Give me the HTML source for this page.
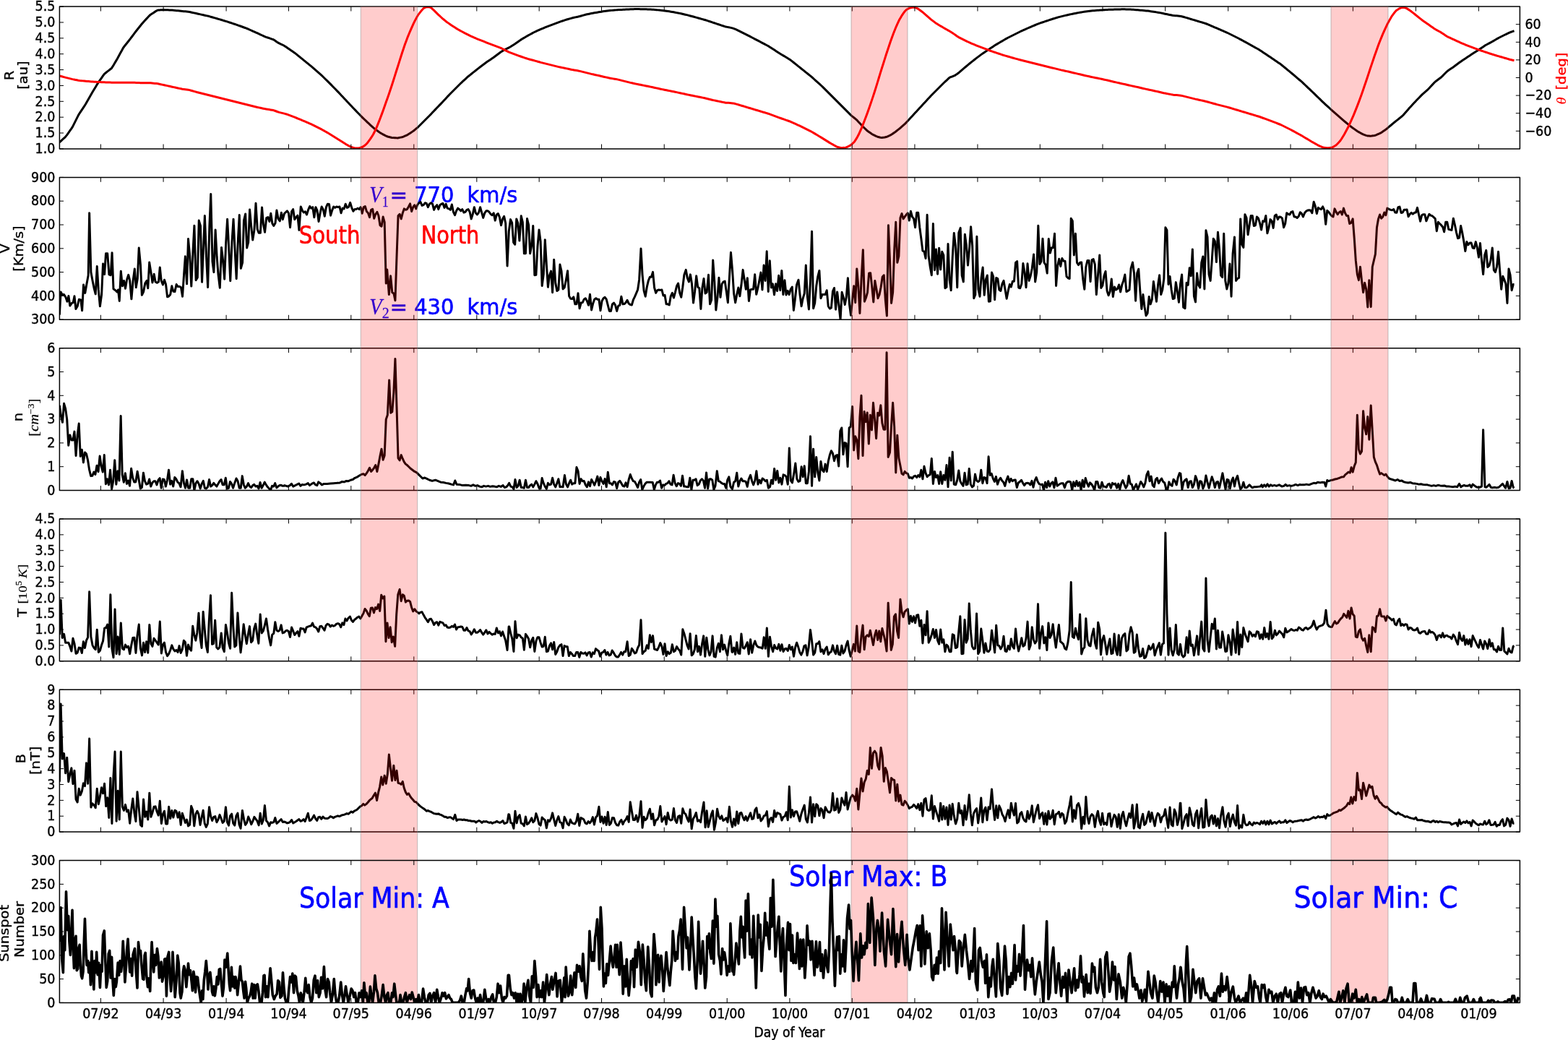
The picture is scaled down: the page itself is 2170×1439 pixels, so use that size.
<!DOCTYPE html>
<html lang="en"><head><meta charset="utf-8"><title>Ulysses solar wind overview</title>
<style>html,body{margin:0;padding:0;background:#fff;overflow:hidden}svg{display:block}</style></head>
<body>
<svg xmlns="http://www.w3.org/2000/svg" width="2170" height="1439" viewBox="0 0 2170 1439" font-family="'DejaVu Sans Condensed','DejaVu Sans','Liberation Sans',sans-serif" font-size="19.44" fill="#000" stroke-linejoin="round">
<defs>
<clipPath id="c0"><rect x="82.4" y="9.1" width="2021" height="196.8"/></clipPath>
<clipPath id="c1"><rect x="82.4" y="245.4" width="2021" height="196.8"/></clipPath>
<clipPath id="c2"><rect x="82.4" y="481.7" width="2021" height="196.8"/></clipPath>
<clipPath id="c3"><rect x="82.4" y="718" width="2021" height="196.8"/></clipPath>
<clipPath id="c4"><rect x="82.4" y="954.3" width="2021" height="196.8"/></clipPath>
<clipPath id="c5"><rect x="82.4" y="1190.6" width="2021" height="196.8"/></clipPath>
</defs>
<rect width="2170" height="1439" fill="#fff"/>
<g id="panel0">

<g clip-path="url(#c0)"><path d="M82.37 196.87 L84.37 195.03 L86.37 193.2 L88.37 191.37 L90.37 189.53 L92.37 187.12 L94.37 184.29 L96.37 181.46 L98.37 178.62 L100.37 175.61 L102.37 171.61 L104.37 167.61 L106.37 163.61 L108.37 159.61 L110.37 156.34 L112.37 153.34 L114.37 150.34 L116.37 147.34 L118.37 144.19 L120.37 140.69 L122.37 137.19 L124.37 133.69 L126.37 130.19 L128.37 126.84 L130.37 123.5 L132.37 120.17 L134.37 116.84 L136.37 113.73 L138.37 110.9 L140.37 108.06 L142.37 105.23 L144.37 102.43 L146.37 100.77 L148.37 99.1 L150.37 97.57 L152.37 96.07 L154.37 94.57 L156.37 91.42 L158.37 88.02 L160.37 84.62 L162.37 81.17 L164.37 77.5 L166.37 73.83 L168.37 70.17 L170.37 66.5 L172.37 63.72 L174.37 61.22 L176.37 58.72 L178.37 56.22 L180.37 53.67 L182.37 51 L184.37 48.33 L186.37 45.67 L188.37 43 L190.37 40.48 L192.37 37.98 L194.37 35.48 L196.37 32.98 L198.37 30.66 L200.37 28.52 L202.37 26.37 L204.37 24.23 L206.37 22.09 L208.37 20.22 L210.37 18.94 L212.37 17.65 L214.37 16.37 L216.37 15.08 L218.37 13.99 L220.37 13.89 L222.37 13.79 L224.37 13.69 L226.37 13.59 L228.37 13.63 L230.37 13.72 L232.37 13.8 L234.37 13.89 L236.37 13.97 L238.37 14.11 L240.37 14.29 L242.37 14.46 L244.37 14.64 L246.37 14.81 L248.37 14.99 L250.37 15.19 L252.37 15.42 L254.37 15.64 L256.37 15.86 L258.37 16.08 L260.37 16.3 L262.37 16.54 L264.37 16.98 L266.37 17.43 L268.37 17.87 L270.37 18.31 L272.37 18.76 L274.37 19.2 L276.37 19.65 L278.37 20.09 L280.37 20.54 L282.37 20.98 L284.37 21.43 L286.37 21.87 L288.37 22.31 L290.37 22.86 L292.37 23.44 L294.37 24.02 L296.37 24.6 L298.37 25.17 L300.37 25.75 L302.37 26.33 L304.37 26.93 L306.37 27.53 L308.37 28.13 L310.37 28.73 L312.37 29.33 L314.37 29.93 L316.37 30.57 L318.37 31.23 L320.37 31.9 L322.37 32.57 L324.37 33.23 L326.37 33.9 L328.37 34.57 L330.37 35.29 L332.37 36.02 L334.37 36.76 L336.37 37.49 L338.37 38.22 L340.37 38.96 L342.37 39.73 L344.37 40.61 L346.37 41.5 L348.37 42.39 L350.37 43.28 L352.37 44.17 L354.37 45.06 L356.37 45.97 L358.37 46.89 L360.37 47.82 L362.37 48.74 L364.37 49.67 L366.37 50.59 L368.37 51.35 L370.37 52.02 L372.37 52.7 L374.37 53.37 L376.37 54.05 L378.37 54.72 L380.37 56 L382.37 57.43 L384.37 58.87 L386.37 59.94 L388.37 60.88 L390.37 61.76 L392.37 62.78 L394.37 63.96 L396.37 65.32 L398.37 66.71 L400.37 68.08 L402.37 69.46 L404.37 70.83 L406.37 72.21 L408.37 73.58 L410.37 75.18 L412.37 76.8 L414.37 78.43 L416.37 80.05 L418.37 81.68 L420.37 83.3 L422.37 84.93 L424.37 86.55 L426.37 88.18 L428.37 89.8 L430.37 91.43 L432.37 93.06 L434.37 94.81 L436.37 96.56 L438.37 98.31 L440.37 100.06 L442.37 101.81 L444.37 103.6 L446.37 105.55 L448.37 107.5 L450.37 109.45 L452.37 111.4 L454.37 113.35 L456.37 115.33 L458.37 117.38 L460.37 119.43 L462.37 121.48 L464.37 123.53 L466.37 125.58 L468.37 127.66 L470.37 129.79 L472.37 131.91 L474.37 134.04 L476.37 136.16 L478.37 138.29 L480.37 140.41 L482.37 142.54 L484.37 144.66 L486.37 146.79 L488.37 148.91 L490.37 151.04 L492.37 153.13 L494.37 155.19 L496.37 157.26 L498.37 159.33 L500.37 161.37 L502.37 163.3 L504.37 165.24 L506.37 167.17 L508.37 169.1 L510.37 170.96 L512.37 172.8 L514.37 174.63 L516.37 176.46 L518.37 178.16 L520.37 179.6 L522.37 181.03 L524.37 182.46 L526.37 183.9 L528.37 185 L530.37 186.07 L532.37 187.13 L534.37 188.2 L536.37 188.99 L538.37 189.47 L540.37 189.95 L542.37 190.43 L544.37 190.62 L546.37 190.74 L548.37 190.86 L550.37 190.93 L552.37 190.53 L554.37 190.13 L556.37 189.73 L558.37 189.11 L560.37 188.19 L562.37 187.27 L564.37 186.35 L566.37 185.1 L568.37 183.74 L570.37 182.38 L572.37 181.01 L574.37 179.36 L576.37 177.71 L578.37 176.03 L580.37 174.03 L582.37 172.03 L584.37 170.03 L586.37 168.03 L588.37 166.03 L590.37 164.03 L592.37 162.03 L594.37 160.03 L596.37 157.93 L598.37 155.83 L600.37 153.73 L602.37 151.63 L604.37 149.55 L606.37 147.48 L608.37 145.41 L610.37 143.35 L612.37 141.27 L614.37 139.1 L616.37 136.93 L618.37 134.77 L620.37 132.6 L622.37 130.55 L624.37 128.55 L626.37 126.55 L628.37 124.55 L630.37 122.55 L632.37 120.55 L634.37 118.55 L636.37 116.55 L638.37 114.55 L640.37 112.7 L642.37 110.86 L644.37 109.03 L646.37 107.2 L648.37 105.47 L650.37 103.87 L652.37 102.27 L654.37 100.67 L656.37 99.07 L658.37 97.5 L660.37 95.93 L662.37 94.37 L664.37 92.8 L666.37 91.27 L668.37 89.77 L670.37 88.27 L672.37 86.77 L674.37 85.3 L676.37 83.97 L678.37 82.64 L680.37 81.3 L682.37 79.97 L684.37 78.51 L686.37 77.01 L688.37 75.51 L690.37 74.01 L692.37 72.54 L694.37 71.14 L696.37 70.02 L698.37 68.93 L700.37 67.84 L702.37 66.78 L704.37 65.81 L706.37 64.76 L708.37 63.49 L710.37 62.23 L712.37 60.96 L714.37 59.58 L716.37 58.18 L718.37 56.78 L720.37 55.38 L722.37 54.08 L724.37 52.91 L726.37 51.75 L728.37 50.58 L730.37 49.41 L732.37 48.31 L734.37 47.21 L736.37 46.11 L738.37 45.01 L740.37 44.02 L742.37 43.12 L744.37 42.22 L746.37 41.32 L748.37 40.43 L750.37 39.6 L752.37 38.77 L754.37 37.93 L756.37 37.1 L758.37 36.34 L760.37 35.61 L762.37 34.87 L764.37 34.14 L766.37 33.4 L768.37 32.63 L770.37 31.86 L772.37 31.1 L774.37 30.33 L776.37 29.65 L778.37 28.98 L780.37 28.32 L782.37 27.65 L784.37 27.03 L786.37 26.46 L788.37 25.89 L790.37 25.33 L792.37 24.76 L794.37 24.33 L796.37 23.9 L798.37 23.46 L800.37 23.03 L802.37 22.52 L804.37 21.95 L806.37 21.38 L808.37 20.82 L810.37 20.27 L812.37 19.84 L814.37 19.41 L816.37 18.97 L818.37 18.54 L820.37 18.18 L822.37 17.85 L824.37 17.52 L826.37 17.18 L828.37 16.85 L830.37 16.52 L832.37 16.18 L834.37 15.85 L836.37 15.52 L838.37 15.27 L840.37 15.04 L842.37 14.81 L844.37 14.57 L846.37 14.37 L848.37 14.21 L850.37 14.04 L852.37 13.87 L854.37 13.71 L856.37 13.61 L858.37 13.51 L860.37 13.41 L862.37 13.31 L864.37 13.21 L866.37 13.11 L868.37 13.01 L870.37 12.91 L872.37 12.82 L874.37 12.75 L876.37 12.68 L878.37 12.62 L880.37 12.55 L882.37 12.56 L884.37 12.59 L886.37 12.63 L888.37 12.66 L890.37 12.71 L892.37 12.77 L894.37 12.84 L896.37 12.91 L898.37 12.97 L900.37 13.1 L902.37 13.24 L904.37 13.37 L906.37 13.5 L908.37 13.67 L910.37 13.87 L912.37 14.07 L914.37 14.27 L916.37 14.47 L918.37 14.74 L920.37 15.01 L922.37 15.27 L924.37 15.54 L926.37 15.85 L928.37 16.19 L930.37 16.52 L932.37 16.85 L934.37 17.2 L936.37 17.6 L938.37 18 L940.37 18.4 L942.37 18.8 L944.37 19.26 L946.37 19.72 L948.37 20.19 L950.37 20.66 L952.37 21.15 L954.37 21.68 L956.37 22.22 L958.37 22.75 L960.37 23.28 L962.37 23.85 L964.37 24.41 L966.37 24.98 L968.37 25.55 L970.37 26.11 L972.37 26.68 L974.37 27.25 L976.37 27.81 L978.37 28.39 L980.37 29.06 L982.37 29.73 L984.37 30.39 L986.37 31.06 L988.37 31.73 L990.37 32.39 L992.37 33.06 L994.37 33.73 L996.37 34.39 L998.37 35.06 L1000.37 35.73 L1002.37 36.39 L1004.37 37.06 L1006.37 37.37 L1008.37 37.72 L1010.37 38.14 L1012.37 38.62 L1014.37 39.17 L1016.37 39.87 L1018.37 40.71 L1020.37 41.6 L1022.37 42.6 L1024.37 43.6 L1026.37 44.6 L1028.37 45.6 L1030.37 46.6 L1032.37 47.6 L1034.37 48.6 L1036.37 49.64 L1038.37 50.68 L1040.37 51.72 L1042.37 52.76 L1044.37 53.8 L1046.37 54.84 L1048.37 55.88 L1050.37 56.93 L1052.37 57.99 L1054.37 59.05 L1056.37 60.11 L1058.37 61.17 L1060.37 62.23 L1062.37 63.29 L1064.37 64.4 L1066.37 65.7 L1068.37 67 L1070.37 68.3 L1072.37 69.6 L1074.37 70.9 L1076.37 72.2 L1078.37 73.5 L1080.37 74.72 L1082.37 75.92 L1084.37 77.12 L1086.37 78.32 L1088.37 79.52 L1090.37 80.72 L1092.37 81.92 L1094.37 83.3 L1096.37 84.9 L1098.37 86.5 L1100.37 88.1 L1102.37 89.7 L1104.37 91.3 L1106.37 92.9 L1108.37 94.5 L1110.37 96.1 L1112.37 97.7 L1114.37 99.3 L1116.37 100.9 L1118.37 102.5 L1120.37 104.1 L1122.37 105.7 L1124.37 107.44 L1126.37 109.24 L1128.37 111.04 L1130.37 112.84 L1132.37 114.64 L1134.37 116.44 L1136.37 118.24 L1138.37 120.1 L1140.37 122.1 L1142.37 124.1 L1144.37 126.1 L1146.37 128.1 L1148.37 130.1 L1150.37 132.1 L1152.37 134.1 L1154.37 136.1 L1156.37 138.1 L1158.37 140.1 L1160.37 142.1 L1162.37 144.1 L1164.37 146.1 L1166.37 148.1 L1168.37 150.1 L1170.37 152.1 L1172.37 154.1 L1174.37 156.1 L1176.37 158.1 L1178.37 160.08 L1180.37 161.68 L1182.37 163.28 L1184.37 164.88 L1186.37 166.7 L1188.37 168.9 L1190.37 171.1 L1192.37 173.3 L1194.37 175.31 L1196.37 177.23 L1198.37 179.15 L1200.37 181.07 L1202.37 182.44 L1204.37 183.8 L1206.37 185.16 L1208.37 186.41 L1210.37 187.41 L1212.37 188.41 L1214.37 189.23 L1216.37 189.73 L1218.37 190.23 L1220.37 190.44 L1222.37 190.24 L1224.37 190.04 L1226.37 189.57 L1228.37 188.77 L1230.37 187.97 L1232.37 186.93 L1234.37 185.65 L1236.37 184.37 L1238.37 183.09 L1240.37 181.54 L1242.37 179.94 L1244.37 178.34 L1246.37 176.72 L1248.37 174.92 L1250.37 173.12 L1252.37 171.32 L1254.37 169.35 L1256.37 167.19 L1258.37 165.02 L1260.37 162.85 L1262.37 160.69 L1264.37 158.52 L1266.37 156.35 L1268.37 154.19 L1270.37 152.02 L1272.37 149.85 L1274.37 147.69 L1276.37 145.52 L1278.37 143.35 L1280.37 141.19 L1282.37 139.02 L1284.37 136.85 L1286.37 134.69 L1288.37 132.52 L1290.37 130.48 L1292.37 128.48 L1294.37 126.48 L1296.37 124.48 L1298.37 122.48 L1300.37 120.48 L1302.37 118.48 L1304.37 116.48 L1306.37 114.48 L1308.37 112.63 L1310.37 110.8 L1312.37 108.96 L1314.37 107.13 L1316.37 106.35 L1318.37 105.72 L1320.37 104.88 L1322.37 103.81 L1324.37 102.55 L1326.37 101.04 L1328.37 99.3 L1330.37 97.57 L1332.37 95.84 L1334.37 94.16 L1336.37 92.49 L1338.37 90.83 L1340.37 89.16 L1342.37 87.52 L1344.37 85.92 L1346.37 84.32 L1348.37 82.72 L1350.37 81.12 L1352.37 79.62 L1354.37 78.12 L1356.37 76.62 L1358.37 75.12 L1360.37 73.71 L1362.37 72.38 L1364.37 71.05 L1366.37 69.71 L1368.37 68.38 L1370.37 67.05 L1372.37 65.71 L1374.37 64.38 L1376.37 63.05 L1378.37 61.83 L1380.37 60.67 L1382.37 59.5 L1384.37 58.33 L1386.37 57.17 L1388.37 56 L1390.37 54.83 L1392.37 53.67 L1394.37 52.5 L1396.37 51.48 L1398.37 50.48 L1400.37 49.48 L1402.37 48.48 L1404.37 47.48 L1406.37 46.48 L1408.37 45.48 L1410.37 44.48 L1412.37 43.48 L1414.37 42.58 L1416.37 41.68 L1418.37 40.78 L1420.37 39.88 L1422.37 39 L1424.37 38.13 L1426.37 37.27 L1428.37 36.4 L1430.37 35.55 L1432.37 34.75 L1434.37 33.95 L1436.37 33.15 L1438.37 32.35 L1440.37 31.65 L1442.37 30.98 L1444.37 30.31 L1446.37 29.65 L1448.37 28.98 L1450.37 28.31 L1452.37 27.65 L1454.37 26.98 L1456.37 26.31 L1458.37 25.71 L1460.37 25.11 L1462.37 24.51 L1464.37 23.91 L1466.37 23.35 L1468.37 22.85 L1470.37 22.35 L1472.37 21.85 L1474.37 21.36 L1476.37 20.93 L1478.37 20.49 L1480.37 20.06 L1482.37 19.63 L1484.37 19.21 L1486.37 18.81 L1488.37 18.41 L1490.37 18.01 L1492.37 17.63 L1494.37 17.29 L1496.37 16.96 L1498.37 16.63 L1500.37 16.29 L1502.37 16.01 L1504.37 15.75 L1506.37 15.48 L1508.37 15.21 L1510.37 14.98 L1512.37 14.81 L1514.37 14.65 L1516.37 14.48 L1518.37 14.31 L1520.37 14.18 L1522.37 14.05 L1524.37 13.91 L1526.37 13.78 L1528.37 13.66 L1530.37 13.56 L1532.37 13.46 L1534.37 13.36 L1536.37 13.27 L1538.37 13.2 L1540.37 13.13 L1542.37 13.07 L1544.37 13 L1546.37 12.95 L1548.37 12.92 L1550.37 12.89 L1552.37 12.85 L1554.37 12.84 L1556.37 12.87 L1558.37 12.9 L1560.37 12.94 L1562.37 12.97 L1564.37 13.09 L1566.37 13.22 L1568.37 13.35 L1570.37 13.49 L1572.37 13.63 L1574.37 13.8 L1576.37 13.97 L1578.37 14.13 L1580.37 14.3 L1582.37 14.5 L1584.37 14.7 L1586.37 14.9 L1588.37 15.1 L1590.37 15.35 L1592.37 15.65 L1594.37 15.95 L1596.37 16.25 L1598.37 16.56 L1600.37 16.89 L1602.37 17.22 L1604.37 17.56 L1606.37 17.89 L1608.37 18.29 L1610.37 18.73 L1612.37 19.16 L1614.37 19.59 L1616.37 20.02 L1618.37 20.42 L1620.37 20.82 L1622.37 21.22 L1624.37 21.62 L1626.37 21.7 L1628.37 21.82 L1630.37 22 L1632.37 22.24 L1634.37 22.55 L1636.37 22.98 L1638.37 23.52 L1640.37 24.08 L1642.37 24.68 L1644.37 25.28 L1646.37 25.88 L1648.37 26.48 L1650.37 27.08 L1652.37 27.68 L1654.37 28.28 L1656.37 28.88 L1658.37 29.48 L1660.37 30.08 L1662.37 30.68 L1664.37 31.28 L1666.37 31.88 L1668.37 32.48 L1670.37 33.22 L1672.37 34.08 L1674.37 34.94 L1676.37 35.8 L1678.37 36.66 L1680.37 37.52 L1682.37 38.38 L1684.37 39.24 L1686.37 40.1 L1688.37 40.96 L1690.37 41.82 L1692.37 42.68 L1694.37 43.54 L1696.37 44.4 L1698.37 45.26 L1700.37 46.24 L1702.37 47.24 L1704.37 48.24 L1706.37 49.24 L1708.37 50.24 L1710.37 51.24 L1712.37 52.24 L1714.37 53.28 L1716.37 54.36 L1718.37 55.44 L1720.37 56.52 L1722.37 57.6 L1724.37 58.68 L1726.37 59.76 L1728.37 60.84 L1730.37 61.96 L1732.37 63.08 L1734.37 64.2 L1736.37 65.32 L1738.37 66.44 L1740.37 67.56 L1742.37 68.68 L1744.37 69.95 L1746.37 71.29 L1748.37 72.63 L1750.37 73.97 L1752.37 75.31 L1754.37 76.65 L1756.37 77.99 L1758.37 79.34 L1760.37 80.7 L1762.37 82.06 L1764.37 83.42 L1766.37 84.78 L1768.37 86.14 L1770.37 87.5 L1772.37 88.86 L1774.37 90.49 L1776.37 92.13 L1778.37 93.77 L1780.37 95.41 L1782.37 97.05 L1784.37 98.69 L1786.37 100.33 L1788.37 102 L1790.37 103.7 L1792.37 105.4 L1794.37 107.1 L1796.37 108.8 L1798.37 110.5 L1800.37 112.2 L1802.37 113.94 L1804.37 115.84 L1806.37 117.74 L1808.37 119.64 L1810.37 121.54 L1812.37 123.44 L1814.37 125.34 L1816.37 127.24 L1818.37 129.18 L1820.37 131.12 L1822.37 133.06 L1824.37 135 L1826.37 136.94 L1828.37 138.88 L1830.37 140.82 L1832.37 142.7 L1834.37 144.53 L1836.37 146.35 L1838.37 148.18 L1840.37 150 L1842.37 151.83 L1844.37 153.62 L1846.37 155.39 L1848.37 157.15 L1850.37 158.89 L1852.37 160.6 L1854.37 162.34 L1856.37 164.09 L1858.37 165.83 L1860.37 167.57 L1862.37 169.24 L1864.37 170.87 L1866.37 172.52 L1868.37 174.16 L1870.37 175.72 L1872.37 177.17 L1874.37 178.62 L1876.37 180.08 L1878.37 181.47 L1880.37 182.63 L1882.37 183.77 L1884.37 184.92 L1886.37 185.94 L1888.37 186.65 L1890.37 187.38 L1892.37 187.89 L1894.37 188.03 L1896.37 188.17 L1898.37 188.1 L1900.37 187.79 L1902.37 187.48 L1904.37 186.87 L1906.37 185.98 L1908.37 185.09 L1910.37 184.21 L1912.37 182.9 L1914.37 181.53 L1916.37 180.16 L1918.37 178.78 L1920.37 177.24 L1922.37 175.49 L1924.37 173.75 L1926.37 172.01 L1928.37 170.36 L1930.37 168.75 L1932.37 167.15 L1934.37 165.56 L1936.37 163.97 L1938.37 162.37 L1940.37 160.76 L1942.37 158.84 L1944.37 156.54 L1946.37 154.23 L1948.37 151.9 L1950.37 149.57 L1952.37 147.41 L1954.37 145.24 L1956.37 143.07 L1958.37 140.91 L1960.37 138.8 L1962.37 136.74 L1964.37 134.67 L1966.37 132.6 L1968.37 130.6 L1970.37 128.83 L1972.37 127.06 L1974.37 125.3 L1976.37 123.53 L1978.37 121.45 L1980.37 119.28 L1982.37 117.12 L1984.37 114.95 L1986.37 113.02 L1988.37 111.52 L1990.37 110.02 L1992.37 108.52 L1994.37 107.02 L1996.37 105.06 L1998.37 103.06 L2000.37 101.06 L2002.37 99.06 L2004.37 97.39 L2006.37 96.06 L2008.37 94.73 L2010.37 93.39 L2012.37 92.04 L2014.37 90.54 L2016.37 89.04 L2018.37 87.54 L2020.37 86.04 L2022.37 84.65 L2024.37 83.32 L2026.37 81.99 L2028.37 80.65 L2030.37 79.32 L2032.37 77.99 L2034.37 76.65 L2036.37 75.32 L2038.37 73.99 L2040.37 72.71 L2042.37 71.44 L2044.37 70.17 L2046.37 68.91 L2048.37 67.62 L2050.37 66.28 L2052.37 64.95 L2054.37 63.62 L2056.37 62.28 L2058.37 61.21 L2060.37 60.14 L2062.37 59.07 L2064.37 58.01 L2066.37 56.89 L2068.37 55.72 L2070.37 54.55 L2072.37 53.39 L2074.37 52.24 L2076.37 51.24 L2078.37 50.24 L2080.37 49.24 L2082.37 48.24 L2084.37 47.29 L2086.37 46.37 L2088.37 45.45 L2090.37 44.53 L2092.37 43.85 L2094.37 43.16 L2095.53 42.76" fill="none" stroke="#000" stroke-width="3.0" stroke-linejoin="round" stroke-linecap="butt"/></g>
<g clip-path="url(#c0)"><path d="M82.37 105 L84.37 105.53 L86.37 106.06 L88.37 106.6 L90.37 107.13 L92.37 107.64 L94.37 108.14 L96.37 108.64 L98.37 109.14 L100.37 109.63 L102.37 110.03 L104.37 110.43 L106.37 110.83 L108.37 111.23 L110.37 111.48 L112.37 111.68 L114.37 111.88 L116.37 112.08 L118.37 112.28 L120.37 112.45 L122.37 112.6 L124.37 112.75 L126.37 112.9 L128.37 113.05 L130.37 113.2 L132.37 113.31 L134.37 113.4 L136.37 113.49 L138.37 113.58 L140.37 113.67 L142.37 113.76 L144.37 113.85 L146.37 113.91 L148.37 113.98 L150.37 114.05 L152.37 114.11 L154.37 114.18 L156.37 114.25 L158.37 114.29 L160.37 114.29 L162.37 114.29 L164.37 114.29 L166.37 114.29 L168.37 114.29 L170.37 114.29 L172.37 114.29 L174.37 114.29 L176.37 114.29 L178.37 114.29 L180.37 114.29 L182.37 114.29 L184.37 114.29 L186.37 114.36 L188.37 114.43 L190.37 114.49 L192.37 114.56 L194.37 114.63 L196.37 114.69 L198.37 114.73 L200.37 114.73 L202.37 114.73 L204.37 114.73 L206.37 114.73 L208.37 114.79 L210.37 114.99 L212.37 115.19 L214.37 115.39 L216.37 115.59 L218.37 115.83 L220.37 116.26 L222.37 116.68 L224.37 117.11 L226.37 117.53 L228.37 117.96 L230.37 118.39 L232.37 118.84 L234.37 119.29 L236.37 119.74 L238.37 120.19 L240.37 120.64 L242.37 121.08 L244.37 121.51 L246.37 121.94 L248.37 122.37 L250.37 122.79 L252.37 123.19 L254.37 123.48 L256.37 123.76 L258.37 124.05 L260.37 124.34 L262.37 124.63 L264.37 125.21 L266.37 125.78 L268.37 126.35 L270.37 126.92 L272.37 127.49 L274.37 128 L276.37 128.5 L278.37 129 L280.37 129.5 L282.37 130 L284.37 130.5 L286.37 131 L288.37 131.5 L290.37 132 L292.37 132.5 L294.37 133 L296.37 133.5 L298.37 134 L300.37 134.5 L302.37 135 L304.37 135.5 L306.37 136 L308.37 136.5 L310.37 137 L312.37 137.5 L314.37 138 L316.37 138.5 L318.37 139 L320.37 139.5 L322.37 140 L324.37 140.5 L326.37 141 L328.37 141.5 L330.37 142 L332.37 142.5 L334.37 143 L336.37 143.5 L338.37 144 L340.37 144.5 L342.37 145 L344.37 145.5 L346.37 146 L348.37 146.5 L350.37 147 L352.37 147.5 L354.37 148 L356.37 148.46 L358.37 148.88 L360.37 149.31 L362.37 149.73 L364.37 150.16 L366.37 150.58 L368.37 150.94 L370.37 151.26 L372.37 151.59 L374.37 151.91 L376.37 152.24 L378.37 152.56 L380.37 153.24 L382.37 154 L384.37 154.77 L386.37 155.37 L388.37 155.91 L390.37 156.4 L392.37 156.89 L394.37 157.37 L396.37 157.94 L398.37 158.67 L400.37 159.42 L402.37 160.17 L404.37 160.92 L406.37 161.67 L408.37 162.42 L410.37 163.24 L412.37 164.07 L414.37 164.89 L416.37 165.72 L418.37 166.54 L420.37 167.37 L422.37 168.24 L424.37 169.12 L426.37 169.99 L428.37 170.87 L430.37 171.74 L432.37 172.63 L434.37 173.63 L436.37 174.63 L438.37 175.63 L440.37 176.63 L442.37 177.63 L444.37 178.65 L446.37 179.78 L448.37 180.9 L450.37 182.03 L452.37 183.15 L454.37 184.28 L456.37 185.44 L458.37 186.69 L460.37 187.94 L462.37 189.19 L464.37 190.44 L466.37 191.69 L468.37 192.95 L470.37 194.24 L472.37 195.52 L474.37 196.81 L476.37 198.09 L478.37 199.34 L480.37 200.46 L482.37 201.58 L484.37 202.7 L486.37 203.54 L488.37 204.14 L490.37 204.74 L492.37 204.98 L494.37 204.98 L496.37 204.98 L498.37 204.49 L500.37 203.74 L502.37 202.99 L504.37 201.6 L506.37 199.93 L508.37 197.78 L510.37 195.11 L512.37 192.35 L514.37 189.35 L516.37 186.29 L518.37 182.29 L520.37 178.29 L522.37 173.43 L524.37 168.43 L526.37 163.22 L528.37 157.89 L530.37 152.41 L532.37 146.74 L534.37 141.08 L536.37 135.41 L538.37 129.74 L540.37 123.74 L542.37 117.74 L544.37 111.48 L546.37 105.14 L548.37 98.81 L550.37 92.48 L552.37 86.14 L554.37 79.81 L556.37 73.53 L558.37 67.53 L560.37 61.53 L562.37 56.16 L564.37 50.83 L566.37 45.98 L568.37 41.31 L570.37 36.82 L572.37 32.49 L574.37 28.36 L576.37 24.69 L578.37 21.12 L580.37 18.46 L582.37 15.79 L584.37 13.54 L586.37 11.34 L588.37 10.3 L590.37 9.84 L592.37 9.68 L594.37 9.88 L596.37 10.48 L598.37 12.28 L600.37 14.08 L602.37 16.08 L604.37 18.08 L606.37 20.07 L608.37 21.92 L610.37 23.77 L612.37 25.59 L614.37 27.24 L616.37 28.89 L618.37 30.49 L620.37 31.89 L622.37 33.29 L624.37 34.69 L626.37 36.03 L628.37 37.31 L630.37 38.59 L632.37 39.87 L634.37 41.01 L636.37 42.11 L638.37 43.21 L640.37 44.31 L642.37 45.37 L644.37 46.37 L646.37 47.37 L648.37 48.37 L650.37 49.37 L652.37 50.27 L654.37 51.17 L656.37 52.07 L658.37 52.97 L660.37 53.8 L662.37 54.57 L664.37 55.33 L666.37 56.1 L668.37 56.87 L670.37 57.71 L672.37 58.54 L674.37 59.37 L676.37 60.21 L678.37 60.97 L680.37 61.7 L682.37 62.44 L684.37 63.17 L686.37 63.91 L688.37 64.68 L690.37 65.45 L692.37 66.21 L694.37 66.98 L696.37 68.04 L698.37 69.1 L700.37 70.12 L702.37 71.11 L704.37 72.06 L706.37 72.89 L708.37 73.62 L710.37 74.36 L712.37 75.09 L714.37 75.82 L716.37 76.56 L718.37 77.29 L720.37 78.02 L722.37 78.73 L724.37 79.39 L726.37 80.06 L728.37 80.73 L730.37 81.39 L732.37 81.93 L734.37 82.46 L736.37 83 L738.37 83.53 L740.37 84.08 L742.37 84.65 L744.37 85.21 L746.37 85.78 L748.37 86.34 L750.37 86.84 L752.37 87.34 L754.37 87.84 L756.37 88.34 L758.37 88.84 L760.37 89.34 L762.37 89.84 L764.37 90.34 L766.37 90.84 L768.37 91.34 L770.37 91.84 L772.37 92.34 L774.37 92.84 L776.37 93.25 L778.37 93.65 L780.37 94.05 L782.37 94.45 L784.37 94.87 L786.37 95.3 L788.37 95.73 L790.37 96.17 L792.37 96.6 L794.37 96.93 L796.37 97.26 L798.37 97.6 L800.37 97.93 L802.37 98.36 L804.37 98.86 L806.37 99.36 L808.37 99.86 L810.37 100.36 L812.37 100.86 L814.37 101.36 L816.37 101.86 L818.37 102.36 L820.37 102.81 L822.37 103.25 L824.37 103.68 L826.37 104.11 L828.37 104.56 L830.37 105.02 L832.37 105.49 L834.37 105.96 L836.37 106.42 L838.37 106.86 L840.37 107.29 L842.37 107.73 L844.37 108.16 L846.37 108.55 L848.37 108.88 L850.37 109.21 L852.37 109.55 L854.37 109.89 L856.37 110.39 L858.37 110.89 L860.37 111.39 L862.37 111.89 L864.37 112.39 L866.37 112.89 L868.37 113.39 L870.37 113.89 L872.37 114.38 L874.37 114.81 L876.37 115.24 L878.37 115.68 L880.37 116.11 L882.37 116.52 L884.37 116.92 L886.37 117.32 L888.37 117.72 L890.37 118.12 L892.37 118.52 L894.37 118.92 L896.37 119.32 L898.37 119.72 L900.37 120.15 L902.37 120.58 L904.37 121.01 L906.37 121.45 L908.37 121.88 L910.37 122.31 L912.37 122.75 L914.37 123.18 L916.37 123.61 L918.37 124.01 L920.37 124.41 L922.37 124.81 L924.37 125.21 L926.37 125.61 L928.37 126.01 L930.37 126.41 L932.37 126.81 L934.37 127.22 L936.37 127.65 L938.37 128.09 L940.37 128.52 L942.37 128.95 L944.37 129.39 L946.37 129.82 L948.37 130.25 L950.37 130.69 L952.37 131.11 L954.37 131.51 L956.37 131.91 L958.37 132.31 L960.37 132.71 L962.37 133.11 L964.37 133.51 L966.37 133.91 L968.37 134.31 L970.37 134.72 L972.37 135.16 L974.37 135.59 L976.37 136.02 L978.37 136.47 L980.37 136.97 L982.37 137.47 L984.37 137.97 L986.37 138.47 L988.37 138.9 L990.37 139.3 L992.37 139.7 L994.37 140.1 L996.37 140.5 L998.37 140.94 L1000.37 141.37 L1002.37 141.8 L1004.37 142.24 L1006.37 142.29 L1008.37 142.37 L1010.37 142.5 L1012.37 142.67 L1014.37 142.89 L1016.37 143.28 L1018.37 143.84 L1020.37 144.41 L1022.37 145.01 L1024.37 145.61 L1026.37 146.21 L1028.37 146.81 L1030.37 147.41 L1032.37 148.01 L1034.37 148.61 L1036.37 149.21 L1038.37 149.81 L1040.37 150.41 L1042.37 151.01 L1044.37 151.61 L1046.37 152.21 L1048.37 152.81 L1050.37 153.41 L1052.37 154.01 L1054.37 154.61 L1056.37 155.21 L1058.37 155.81 L1060.37 156.41 L1062.37 157.01 L1064.37 157.64 L1066.37 158.38 L1068.37 159.12 L1070.37 159.86 L1072.37 160.6 L1074.37 161.34 L1076.37 162.08 L1078.37 162.82 L1080.37 163.52 L1082.37 164.22 L1084.37 164.92 L1086.37 165.62 L1088.37 166.32 L1090.37 167.02 L1092.37 167.72 L1094.37 168.51 L1096.37 169.41 L1098.37 170.31 L1100.37 171.21 L1102.37 172.11 L1104.37 173.01 L1106.37 173.91 L1108.37 174.82 L1110.37 175.82 L1112.37 176.82 L1114.37 177.82 L1116.37 178.82 L1118.37 179.82 L1120.37 180.82 L1122.37 181.82 L1124.37 182.96 L1126.37 184.16 L1128.37 185.36 L1130.37 186.56 L1132.37 187.76 L1134.37 188.96 L1136.37 190.16 L1138.37 191.38 L1140.37 192.63 L1142.37 193.88 L1144.37 195.13 L1146.37 196.38 L1148.37 197.63 L1150.37 198.81 L1152.37 199.91 L1154.37 201.01 L1156.37 202.11 L1158.37 203.21 L1160.37 203.71 L1162.37 204.21 L1164.37 204.67 L1166.37 204.52 L1168.37 204.37 L1170.37 204.15 L1172.37 203.3 L1174.37 202.45 L1176.37 201.47 L1178.37 199.82 L1180.37 198.17 L1182.37 196.21 L1184.37 193.07 L1186.37 189.93 L1188.37 186.04 L1190.37 181.71 L1192.37 177.1 L1194.37 172.1 L1196.37 167.03 L1198.37 161.7 L1200.37 156.36 L1202.37 150.7 L1204.37 145.03 L1206.37 139.11 L1208.37 133.11 L1210.37 126.92 L1212.37 120.58 L1214.37 114.13 L1216.37 107.47 L1218.37 100.85 L1220.37 94.51 L1222.37 88.18 L1224.37 81.85 L1226.37 75.51 L1228.37 69.42 L1230.37 63.42 L1232.37 57.59 L1234.37 51.92 L1236.37 46.45 L1238.37 41.45 L1240.37 36.51 L1242.37 32.17 L1244.37 27.84 L1246.37 24.38 L1248.37 21.04 L1250.37 18.15 L1252.37 15.48 L1254.37 13.5 L1256.37 12.37 L1258.37 11.38 L1260.37 10.84 L1262.37 10.32 L1264.37 10.32 L1266.37 10.32 L1268.37 11.13 L1270.37 12.13 L1272.37 13.43 L1274.37 14.93 L1276.37 16.43 L1278.37 18.1 L1280.37 19.85 L1282.37 21.6 L1284.37 23.35 L1286.37 25.1 L1288.37 26.85 L1290.37 28.41 L1292.37 29.91 L1294.37 31.41 L1296.37 32.71 L1298.37 33.96 L1300.37 35.21 L1302.37 36.39 L1304.37 37.55 L1306.37 38.72 L1308.37 39.89 L1310.37 41.02 L1312.37 42.12 L1314.37 43.22 L1316.37 44.46 L1318.37 45.75 L1320.37 47.14 L1322.37 48.56 L1324.37 49.99 L1326.37 51.35 L1328.37 52.4 L1330.37 53.4 L1332.37 54.4 L1334.37 55.4 L1336.37 56.38 L1338.37 57.31 L1340.37 58.24 L1342.37 59.18 L1344.37 60.11 L1346.37 60.92 L1348.37 61.72 L1350.37 62.52 L1352.37 63.32 L1354.37 64.1 L1356.37 64.87 L1358.37 65.63 L1360.37 66.4 L1362.37 67.17 L1364.37 67.93 L1366.37 68.7 L1368.37 69.47 L1370.37 70.23 L1372.37 70.93 L1374.37 71.6 L1376.37 72.27 L1378.37 72.93 L1380.37 73.6 L1382.37 74.27 L1384.37 74.93 L1386.37 75.6 L1388.37 76.27 L1390.37 76.85 L1392.37 77.42 L1394.37 77.99 L1396.37 78.55 L1398.37 79.12 L1400.37 79.69 L1402.37 80.25 L1404.37 80.82 L1406.37 81.39 L1408.37 81.92 L1410.37 82.45 L1412.37 82.99 L1414.37 83.52 L1416.37 84.03 L1418.37 84.53 L1420.37 85.03 L1422.37 85.53 L1424.37 86.03 L1426.37 86.53 L1428.37 87.03 L1430.37 87.53 L1432.37 88.03 L1434.37 88.53 L1436.37 89.03 L1438.37 89.53 L1440.37 90.03 L1442.37 90.53 L1444.37 91.03 L1446.37 91.53 L1448.37 92.03 L1450.37 92.53 L1452.37 93.01 L1454.37 93.47 L1456.37 93.94 L1458.37 94.41 L1460.37 94.89 L1462.37 95.39 L1464.37 95.89 L1466.37 96.39 L1468.37 96.89 L1470.37 97.32 L1472.37 97.75 L1474.37 98.19 L1476.37 98.62 L1478.37 99.07 L1480.37 99.54 L1482.37 100.01 L1484.37 100.47 L1486.37 100.94 L1488.37 101.41 L1490.37 101.87 L1492.37 102.34 L1494.37 102.81 L1496.37 103.27 L1498.37 103.74 L1500.37 104.21 L1502.37 104.67 L1504.37 105.13 L1506.37 105.56 L1508.37 106 L1510.37 106.43 L1512.37 106.86 L1514.37 107.27 L1516.37 107.67 L1518.37 108.07 L1520.37 108.47 L1522.37 108.88 L1524.37 109.32 L1526.37 109.75 L1528.37 110.18 L1530.37 110.62 L1532.37 111.08 L1534.37 111.55 L1536.37 112.02 L1538.37 112.48 L1540.37 112.95 L1542.37 113.42 L1544.37 113.88 L1546.37 114.35 L1548.37 114.81 L1550.37 115.24 L1552.37 115.68 L1554.37 116.11 L1556.37 116.54 L1558.37 117 L1560.37 117.47 L1562.37 117.94 L1564.37 118.4 L1566.37 118.86 L1568.37 119.29 L1570.37 119.72 L1572.37 120.16 L1574.37 120.59 L1576.37 121.05 L1578.37 121.52 L1580.37 121.99 L1582.37 122.45 L1584.37 122.9 L1586.37 123.34 L1588.37 123.77 L1590.37 124.2 L1592.37 124.64 L1594.37 125.07 L1596.37 125.5 L1598.37 125.94 L1600.37 126.37 L1602.37 126.83 L1604.37 127.29 L1606.37 127.76 L1608.37 128.23 L1610.37 128.68 L1612.37 129.08 L1614.37 129.48 L1616.37 129.88 L1618.37 130.28 L1620.37 130.65 L1622.37 131.02 L1624.37 131.39 L1626.37 131.47 L1628.37 131.6 L1630.37 131.77 L1632.37 131.99 L1634.37 132.24 L1636.37 132.61 L1638.37 133.11 L1640.37 133.61 L1642.37 134.11 L1644.37 134.61 L1646.37 135.11 L1648.37 135.61 L1650.37 136.11 L1652.37 136.61 L1654.37 137.11 L1656.37 137.56 L1658.37 138 L1660.37 138.44 L1662.37 138.88 L1664.37 139.32 L1666.37 139.76 L1668.37 140.2 L1670.37 140.7 L1672.37 141.26 L1674.37 141.82 L1676.37 142.38 L1678.37 142.94 L1680.37 143.5 L1682.37 144.06 L1684.37 144.61 L1686.37 145.11 L1688.37 145.61 L1690.37 146.11 L1692.37 146.61 L1694.37 147.11 L1696.37 147.61 L1698.37 148.11 L1700.37 148.69 L1702.37 149.29 L1704.37 149.89 L1706.37 150.49 L1708.37 151.09 L1710.37 151.69 L1712.37 152.29 L1714.37 152.89 L1716.37 153.49 L1718.37 154.09 L1720.37 154.69 L1722.37 155.29 L1724.37 155.89 L1726.37 156.49 L1728.37 157.09 L1730.37 157.69 L1732.37 158.29 L1734.37 158.89 L1736.37 159.49 L1738.37 160.09 L1740.37 160.69 L1742.37 161.29 L1744.37 161.99 L1746.37 162.73 L1748.37 163.47 L1750.37 164.21 L1752.37 164.95 L1754.37 165.69 L1756.37 166.43 L1758.37 167.18 L1760.37 167.94 L1762.37 168.7 L1764.37 169.46 L1766.37 170.22 L1768.37 170.98 L1770.37 171.74 L1772.37 172.5 L1774.37 173.49 L1776.37 174.49 L1778.37 175.49 L1780.37 176.49 L1782.37 177.49 L1784.37 178.49 L1786.37 179.49 L1788.37 180.55 L1790.37 181.65 L1792.37 182.75 L1794.37 183.85 L1796.37 184.95 L1798.37 186.05 L1800.37 187.15 L1802.37 188.27 L1804.37 189.47 L1806.37 190.67 L1808.37 191.87 L1810.37 193.07 L1812.37 194.27 L1814.37 195.47 L1816.37 196.67 L1818.37 197.78 L1820.37 198.88 L1822.37 199.98 L1824.37 201.08 L1826.37 202.08 L1828.37 202.93 L1830.37 203.78 L1832.37 204.35 L1834.37 204.6 L1836.37 204.85 L1838.37 204.85 L1840.37 204.6 L1842.37 204.35 L1844.37 203.59 L1846.37 202.44 L1848.37 201.29 L1850.37 199.56 L1852.37 197.45 L1854.37 195.34 L1856.37 192.49 L1858.37 189.21 L1860.37 185.92 L1862.37 182.3 L1864.37 178.5 L1866.37 174.68 L1868.37 170.38 L1870.37 165.92 L1872.37 161.46 L1874.37 156.64 L1876.37 151.64 L1878.37 146.63 L1880.37 141.38 L1882.37 135.95 L1884.37 130.51 L1886.37 124.71 L1888.37 118.83 L1890.37 112.94 L1892.37 106.91 L1894.37 100.87 L1896.37 94.83 L1898.37 88.87 L1900.37 82.96 L1902.37 77.08 L1904.37 71.39 L1906.37 65.77 L1908.37 60.19 L1910.37 55.19 L1912.37 50.34 L1914.37 45.54 L1916.37 41.2 L1918.37 36.94 L1920.37 32.72 L1922.37 29.1 L1924.37 25.58 L1926.37 22.11 L1928.37 19.37 L1930.37 16.75 L1932.37 14.5 L1934.37 13.23 L1936.37 11.96 L1938.37 11.08 L1940.37 10.41 L1942.37 10.25 L1944.37 10.71 L1946.37 11.39 L1948.37 12.64 L1950.37 13.89 L1952.37 15.24 L1954.37 16.84 L1956.37 18.44 L1958.37 20.04 L1960.37 21.64 L1962.37 23.24 L1964.37 24.84 L1966.37 26.44 L1968.37 28 L1970.37 29.4 L1972.37 30.8 L1974.37 32.2 L1976.37 33.6 L1978.37 35 L1980.37 36.4 L1982.37 37.8 L1984.37 39.2 L1986.37 40.5 L1988.37 41.6 L1990.37 42.7 L1992.37 43.8 L1994.37 44.9 L1996.37 46.22 L1998.37 47.55 L2000.37 48.88 L2002.37 50.22 L2004.37 51.33 L2006.37 52.23 L2008.37 53.13 L2010.37 54.03 L2012.37 54.93 L2014.37 55.87 L2016.37 56.8 L2018.37 57.73 L2020.37 58.67 L2022.37 59.53 L2024.37 60.37 L2026.37 61.2 L2028.37 62.03 L2030.37 62.85 L2032.37 63.62 L2034.37 64.38 L2036.37 65.15 L2038.37 65.92 L2040.37 66.66 L2042.37 67.39 L2044.37 68.12 L2046.37 68.86 L2048.37 69.57 L2050.37 70.23 L2052.37 70.9 L2054.37 71.57 L2056.37 72.23 L2058.37 72.9 L2060.37 73.57 L2062.37 74.23 L2064.37 74.9 L2066.37 75.53 L2068.37 76.13 L2070.37 76.73 L2072.37 77.33 L2074.37 77.93 L2076.37 78.49 L2078.37 79.06 L2080.37 79.63 L2082.37 80.19 L2084.37 80.78 L2086.37 81.38 L2088.37 81.98 L2090.37 82.58 L2092.37 83.04 L2094.37 83.5 L2095.53 83.76" fill="none" stroke="#f00" stroke-width="3.0" stroke-linejoin="round" stroke-linecap="butt"/></g>
<path d="M139.4 205.9v-6.4M139.4 9.1v6.4M226.08 205.9v-6.4M226.08 9.1v6.4M313.08 205.9v-6.4M313.08 9.1v6.4M399.45 205.9v-6.4M399.45 9.1v6.4M485.81 205.9v-6.4M485.81 9.1v6.4M572.81 205.9v-6.4M572.81 9.1v6.4M659.81 205.9v-6.4M659.81 9.1v6.4M746.17 205.9v-6.4M746.17 9.1v6.4M832.54 205.9v-6.4M832.54 9.1v6.4M919.22 205.9v-6.4M919.22 9.1v6.4M1006.22 205.9v-6.4M1006.22 9.1v6.4M1092.9 205.9v-6.4M1092.9 9.1v6.4M1179.27 205.9v-6.4M1179.27 9.1v6.4M1265.95 205.9v-6.4M1265.95 9.1v6.4M1352.95 205.9v-6.4M1352.95 9.1v6.4M1439.31 205.9v-6.4M1439.31 9.1v6.4M1525.99 205.9v-6.4M1525.99 9.1v6.4M1612.67 205.9v-6.4M1612.67 9.1v6.4M1699.67 205.9v-6.4M1699.67 9.1v6.4M1786.04 205.9v-6.4M1786.04 9.1v6.4M1872.4 205.9v-6.4M1872.4 9.1v6.4M1959.4 205.9v-6.4M1959.4 9.1v6.4M2046.4 205.9v-6.4M2046.4 9.1v6.4M82.4 205.9h5.6M82.4 184.03h5.6M82.4 162.17h5.6M82.4 140.3h5.6M82.4 118.43h5.6M82.4 96.57h5.6M82.4 74.7h5.6M82.4 52.83h5.6M82.4 30.97h5.6M82.4 9.1h5.6M2103.4 181.3h-5.6M2103.4 156.7h-5.6M2103.4 132.1h-5.6M2103.4 107.5h-5.6M2103.4 82.9h-5.6M2103.4 58.3h-5.6M2103.4 33.7h-5.6" stroke="#000" stroke-width="1.0" fill="none"/>
<rect x="82.4" y="9.1" width="2021" height="196.8" fill="none" stroke="#000" stroke-width="1.5"/>
<g stroke="#000" stroke-width="0.4"><text x="76.4" y="212.1" text-anchor="end">1.0</text>
<text x="76.4" y="190.23" text-anchor="end">1.5</text>
<text x="76.4" y="168.37" text-anchor="end">2.0</text>
<text x="76.4" y="146.5" text-anchor="end">2.5</text>
<text x="76.4" y="124.63" text-anchor="end">3.0</text>
<text x="76.4" y="102.77" text-anchor="end">3.5</text>
<text x="76.4" y="80.9" text-anchor="end">4.0</text>
<text x="76.4" y="59.03" text-anchor="end">4.5</text>
<text x="76.4" y="37.17" text-anchor="end">5.0</text>
<text x="76.4" y="15.3" text-anchor="end">5.5</text>
<text x="2110.4" y="187.5">−60</text>
<text x="2110.4" y="162.9">−40</text>
<text x="2110.4" y="138.3">−20</text>
<text x="2110.4" y="113.7">0</text>
<text x="2110.4" y="89.1">20</text>
<text x="2110.4" y="64.5">40</text>
<text x="2110.4" y="39.9">60</text></g>
<text transform="translate(18.85 104.45) scale(0.9 1) rotate(-90)" font-family="'DejaVu Sans','Liberation Sans',sans-serif" font-size="19.44" text-anchor="middle" fill="#000" stroke="#000" stroke-width="0.4">R</text><text transform="translate(37.65 104.12) scale(0.9 1) rotate(-90)" font-family="'DejaVu Sans','Liberation Sans',sans-serif" font-size="19.44" text-anchor="middle" fill="#000" stroke="#000" stroke-width="0.4">[au]</text><text transform="translate(2167.10 108.65) scale(0.9 1) rotate(-90)" font-family="'DejaVu Sans','Liberation Sans',sans-serif" font-size="19.44" text-anchor="middle" fill="#ff0000" stroke="#ff0000" stroke-width="0.4"><tspan font-family="'Liberation Serif','DejaVu Serif',serif" font-style="italic" font-size="20.5" stroke-width="0.2">θ</tspan>  [deg]</text>
</g>
<g id="panel1">
<text transform="translate(511.27 280.30) scale(0.9333 1)" font-family="'Liberation Serif','DejaVu Serif',serif" font-size="30.56" fill="#0000ff" stroke="#0000ff" stroke-width="0.25"><tspan font-style="italic">V</tspan></text><text transform="translate(529.00 285.60) scale(0.8000 1)" font-family="'Liberation Serif','DejaVu Serif',serif" font-size="21.4" fill="#0000ff" stroke="#0000ff" stroke-width="0.25">1</text><text transform="translate(539.80 280.30) scale(1.0509 1)" font-family="'DejaVu Sans Condensed','DejaVu Sans','Liberation Sans',sans-serif" font-size="30.56" fill="#0000ff" stroke="#0000ff" stroke-width="0.6">= 770  km/s</text><text transform="translate(511.27 434.60) scale(0.9333 1)" font-family="'Liberation Serif','DejaVu Serif',serif" font-size="30.56" fill="#0000ff" stroke="#0000ff" stroke-width="0.25"><tspan font-style="italic">V</tspan></text><text transform="translate(528.67 439.90) scale(0.9333 1)" font-family="'Liberation Serif','DejaVu Serif',serif" font-size="21.4" fill="#0000ff" stroke="#0000ff" stroke-width="0.25">2</text><text transform="translate(539.80 434.60) scale(1.0509 1)" font-family="'DejaVu Sans Condensed','DejaVu Sans','Liberation Sans',sans-serif" font-size="30.56" fill="#0000ff" stroke="#0000ff" stroke-width="0.6">= 430  km/s</text><text transform="translate(413.65 336.80) scale(0.9747 1)" font-family="'DejaVu Sans Condensed','DejaVu Sans','Liberation Sans',sans-serif" font-size="33.3" fill="#ff0000" stroke="#ff0000" stroke-width="0.6">South</text><text transform="translate(582.68 336.80) scale(0.9612 1)" font-family="'DejaVu Sans Condensed','DejaVu Sans','Liberation Sans',sans-serif" font-size="33.3" fill="#ff0000" stroke="#ff0000" stroke-width="0.6">North</text>
<g clip-path="url(#c1)"><path d="M82.37 435.6 L84.14 403.9 L86.06 407.59 L88.57 407.59 L90.93 411.27 L92.99 417.17 L94.91 409.5 L96.82 423.07 L99.33 419.38 L101.25 418.65 L103.02 409.8 L104.94 427.49 L107.15 423.81 L109.36 414.22 L111.87 414.96 L113.64 429.71 L115.55 394.02 L117.76 405.37 L119.98 392.84 L122.19 381.04 L123.66 294.77 L125.88 376.62 L128.09 388.41 L130.3 399.47 L132.22 406.85 L134.28 368.51 L136.2 400.21 L138.41 423.81 L140.62 407.59 L142.54 365.12 L144.6 379.57 L146.52 350.81 L148.73 350.81 L150.94 379.86 L153.16 380.75 L155.07 349.63 L156.99 399.77 L159.79 401.69 L162 403.9 L163.48 400.95 L165.25 416.43 L167.31 375.14 L169.38 395.79 L171.59 388.41 L173.51 399.18 L175.57 386.94 L177.78 380.3 L179.7 388.41 L181.91 413.78 L184.12 388.41 L186.34 371.9 L188.25 397.71 L190.32 385.47 L192.24 343 L194.45 366.29 L196.36 408.32 L198.58 403.9 L200.79 392.1 L203 388.41 L204.77 398.74 L206.69 363.05 L208.9 376.62 L210.96 390.92 L213.18 379.27 L215.09 389.89 L217.3 391.36 L219.52 389.89 L221.29 369.98 L223.2 388.41 L225.41 394.02 L227.48 387.24 L229.54 393.58 L231.61 410.83 L233.82 409.8 L235.74 407.59 L237.8 395.79 L239.87 403.16 L241.93 403.6 L244.14 393.58 L246.35 396.53 L248.57 396.53 L250.48 397.56 L252.55 410.24 L254.61 379.27 L256.38 354.79 L258.59 392.84 L260.51 330.46 L262.72 354.5 L264.79 396.08 L267 347.86 L268.92 312.18 L271.13 387.68 L273.34 383.99 L275.26 305.1 L277.47 312.47 L279.53 390.33 L281.45 344.91 L283.37 298.46 L285.58 355.97 L287.65 397.56 L289.86 313.21 L291.77 268.53 L293.99 361.87 L295.9 376.62 L298.12 318.07 L300.18 355.97 L302.1 380.3 L304.31 398.29 L306.52 342.41 L308.59 360.4 L310.65 386.2 L312.71 335.33 L314.63 303.33 L316.84 345.65 L318.76 388.71 L320.97 335.33 L323.04 303.18 L325.25 348.6 L327.17 385.76 L329.38 332.38 L331.29 297.43 L333.36 371.46 L335.57 363.35 L337.49 305.1 L339.7 295.95 L341.62 343 L343.68 335.33 L345.6 289.91 L347.81 314.68 L349.73 332.08 L351.94 318.37 L354 281.21 L356.22 316.89 L358.13 322.35 L360.35 322.35 L362.56 286.96 L364.47 310.26 L366.54 321.32 L368.75 301.41 L370.82 300.67 L372.88 306.57 L374.8 295.22 L376.86 309.23 L378.78 312.47 L380.99 308.78 L382.91 291.09 L385.12 302.88 L387.33 305.83 L389.4 294.33 L391.31 303.62 L393.53 295.51 L395.32 293.74 L397.39 291.82 L399.45 294.77 L401.52 314.68 L403.58 292.86 L405.65 289.61 L407.71 303.62 L409.77 300.67 L411.84 298.17 L413.9 318.37 L416.26 285.93 L418.33 291.09 L420.39 294.04 L422.46 292.86 L424.52 296.99 L426.59 290.35 L428.65 285.48 L430.71 288.14 L432.78 286.66 L434.84 300.67 L436.91 286.66 L438.97 291.09 L441.04 306.57 L443.1 294.77 L445.17 285.93 L447.23 289.61 L449.29 299.2 L451.36 286.66 L453.42 282.24 L455.49 282.53 L457.55 298.17 L459.62 291.09 L461.68 285.93 L463.75 287.4 L465.81 285.93 L467.88 286.66 L469.94 285.93 L472 294.77 L474.07 288.14 L476.13 288.88 L478.2 282.24 L480.26 287.4 L482.33 286.66 L484.69 280.32 L486.75 287.4 L488.82 292.27 L490.88 289.61 L492.94 289.61 L495.01 288.14 L497.07 289.61 L499.14 286.66 L501.2 295.22 L503.27 286.66 L505.33 285.48 L507.4 292.56 L509.46 294.77 L511.53 300.67 L513.59 290.35 L515.65 289.32 L517.72 302.15 L519.78 296.25 L521.85 293.3 L523.91 298.46 L525.98 311.73 L528.04 313.21 L530.11 299.94 L532.17 307.31 L534.24 392.1 L535.71 372.93 L538.36 407.59 L540.58 381.78 L542.79 404.64 L545 406.11 L546.92 415.7 L548.98 355.97 L551.05 298.46 L553.11 296.25 L555.18 302.88 L557.24 294.77 L559.3 288.88 L561.37 290.35 L563.43 289.61 L565.5 285.93 L567.56 281.94 L569.63 292.56 L571.69 286.66 L573.76 283.71 L575.82 288.88 L577.88 282.98 L579.95 280.76 L582.01 279.59 L584.08 284.45 L586.14 283.71 L588.21 280.76 L590.27 281.5 L592.34 286.66 L594.4 282.24 L596.47 280.76 L598.53 282.24 L600.59 290.35 L602.66 285.93 L604.72 283.71 L606.79 289.61 L608.85 283.71 L610.92 282.24 L612.98 281.5 L615.05 287.4 L617.11 282.24 L619.18 288.14 L621.24 288.88 L623.3 290.35 L625.37 282.98 L627.43 293.3 L629.5 297.72 L631.56 291.82 L633.63 288.14 L635.69 289.61 L637.76 291.82 L639.82 289.61 L641.88 294.04 L643.95 293.3 L646.01 290.35 L648.08 289.61 L650.14 293.3 L652.21 302.88 L654.27 296.25 L656.34 286.66 L658.4 294.77 L660.47 296.99 L662.53 294.04 L664.59 286.66 L666.66 294.04 L668.72 301.41 L670.79 294.77 L672.85 291.82 L674.92 291.82 L676.98 293.3 L679.05 296.25 L681.11 297.72 L683.18 294.77 L685.24 305.1 L687.3 296.99 L689.37 295.51 L691.43 300.67 L693.5 311.73 L695.56 302.88 L697.63 299.2 L699.69 308.78 L702.05 368.06 L704.26 319.84 L706.5 303.62 L708.57 308.05 L710.63 335.33 L712.7 338.28 L714.76 302.88 L716.82 308.78 L718.89 333.12 L721.25 298.76 L723.31 307.31 L725.38 350.81 L727.44 350.81 L729.51 302.59 L731.57 311 L733.64 350.81 L735.7 339.75 L737.76 312.47 L739.83 380.75 L741.89 380.3 L743.96 341.23 L746.02 317.93 L748.09 333.85 L750.15 395.49 L752.22 379.57 L754.28 331.64 L756.35 366.29 L758.41 397.26 L760.47 381.04 L762.54 375.14 L764.6 404.64 L766.67 359.36 L768.73 391.36 L770.8 402.42 L772.86 400.95 L774.93 366 L776.99 375.14 L779.06 399.92 L781.12 398 L783.18 388.41 L785.54 374.85 L787.61 409.8 L789.67 413.19 L791.74 413.48 L793.8 410.83 L795.87 420.86 L797.93 420.86 L800 405.67 L802.06 426.76 L804.12 419.09 L806.19 418.65 L808.25 414.22 L810.32 412.75 L812.38 416.43 L814.45 422.33 L816.51 407.29 L818.58 428.97 L820.64 420.12 L822.71 414.22 L824.77 412.75 L826.83 414.22 L828.9 414.22 L830.96 429.71 L833.03 416.43 L835.09 412.75 L837.16 411.27 L839.22 414.22 L841.29 422.33 L843.35 430.44 L845.41 430.44 L847.48 420.86 L849.54 419.09 L851.61 422.33 L853.67 430.44 L855.74 423.07 L857.8 422.33 L859.87 410.24 L861.93 420.86 L864 420.56 L866.06 418.65 L868.12 415.4 L870.19 420.12 L872.25 421.59 L874.32 422.04 L876.38 414.96 L878.45 410.53 L880.51 405.82 L882.58 400.95 L884.64 386.94 L887 343.88 L889.06 380.3 L891.13 402.42 L893.19 410.24 L895.26 397.26 L897.32 388.41 L899.39 383.25 L901.45 383.25 L903.52 376.32 L905.58 398 L907.65 405.37 L909.71 401.69 L911.77 400.95 L913.84 401.39 L915.9 400.95 L917.97 409.06 L920.03 408.32 L922.1 420.86 L924.16 420.86 L926.23 422.04 L928.29 409.8 L930.35 405.37 L932.42 412.01 L934.48 404.34 L936.55 395.79 L938.61 392.1 L940.68 405.37 L942.74 411.27 L944.81 397.26 L946.87 380.3 L949.23 373.37 L951.29 384.73 L953.36 389.89 L955.42 379.86 L957.49 392.84 L959.55 419.09 L961.62 403.16 L963.68 381.78 L965.75 397.26 L967.81 398.74 L969.88 427.49 L971.94 398 L974 385.47 L976.07 406.11 L978.13 404.64 L980.49 380.3 L982.56 420.86 L984.62 414.96 L986.69 360.1 L988.75 389.89 L990.82 428.97 L992.88 412.01 L994.94 384.29 L997.01 411.27 L999.07 392.84 L1001.14 389.89 L1003.2 389.15 L1005.27 403.16 L1007.33 418.65 L1009.4 383.99 L1011.46 349.34 L1013.53 373.67 L1015.62 406.11 L1017.68 418.65 L1019.75 407.59 L1021.81 398 L1023.88 409.8 L1025.94 394.31 L1028.15 373.37 L1030.22 386.94 L1032.28 400.21 L1034.35 384.73 L1036.41 416.43 L1038.47 400.95 L1040.54 400.21 L1042.6 400.21 L1044.67 379.86 L1046.73 407.29 L1048.8 398.74 L1050.86 388.41 L1052.93 376.91 L1054.99 400.95 L1057.06 367.03 L1059.12 388.41 L1061.18 347.86 L1063.25 403.46 L1065.31 360.84 L1067.38 398 L1069.44 392.84 L1071.51 407.88 L1073.57 392.84 L1075.64 402.42 L1077.7 381.34 L1079.76 401.69 L1081.83 374.41 L1083.89 407.59 L1085.96 387.68 L1088.02 408.03 L1090.09 402.42 L1092.15 407.59 L1094.22 400.21 L1096.28 396.97 L1098.35 429.41 L1100.41 413.48 L1102.47 394.31 L1104.98 387.24 L1107.05 407.59 L1109.11 423.81 L1111.18 412.75 L1113.24 406.11 L1115.3 367.03 L1117.37 410.53 L1119.43 427.94 L1121.5 388.41 L1123.56 320.14 L1125.63 426.76 L1127.69 419.38 L1129.76 395.79 L1131.82 382.52 L1133.88 374.41 L1135.95 412.75 L1138.01 407.59 L1140.08 407.59 L1142.14 407.59 L1144.21 401.69 L1146.27 423.81 L1148.34 427.05 L1150.4 426.02 L1152.47 403.16 L1154.53 398.44 L1156.59 428.23 L1158.66 403.9 L1160.72 420.86 L1163.08 442.24 L1165.15 404.34 L1167.21 411.27 L1169.28 421.59 L1171.34 410.53 L1173.41 384.73 L1175.47 420.86 L1177.53 436.34 L1179.6 414.96 L1181.66 395.79 L1183.73 418.65 L1185.79 371.9 L1187.86 396.53 L1189.92 433.39 L1191.99 388.41 L1194.35 345.65 L1196.41 417.17 L1198.47 412.01 L1200.54 404.64 L1202.6 378.09 L1204.67 377.8 L1206.73 396.53 L1208.8 417.91 L1210.86 388.41 L1212.93 400.21 L1214.99 412.75 L1217.06 407.59 L1219.12 397.26 L1221.18 383.25 L1223.25 380.75 L1225.31 414.96 L1227.38 437.08 L1229.44 311.73 L1231.51 360.4 L1233.57 419.38 L1235.64 404.64 L1237.7 345.65 L1239.76 307.31 L1241.83 363.35 L1243.89 354.5 L1245.96 301.41 L1248.02 295.51 L1250.09 302.88 L1252.15 299.94 L1254.22 296.99 L1256.28 294.77 L1258.35 305.1 L1260.41 292.27 L1262.47 299.94 L1264.54 302.59 L1266.6 314.68 L1268.67 294.33 L1270.73 294.33 L1272.8 314.68 L1274.86 330.17 L1276.93 347.12 L1278.99 347.86 L1281.06 357.45 L1283.12 297.28 L1285.18 354.5 L1287.25 369.24 L1289.31 380.75 L1291.38 309.52 L1293.44 373.67 L1295.51 344.91 L1297.57 379.27 L1299.64 343.14 L1301.7 372.93 L1303.76 348.3 L1305.83 353.02 L1307.89 398.74 L1309.96 397.26 L1312.02 337.54 L1314.09 386.94 L1316.15 401.69 L1318.22 355.97 L1320.28 322.5 L1322.35 339.75 L1322.67 344.18 L1324.73 397.71 L1326.8 322.06 L1329.16 315.42 L1331.22 381.04 L1333.29 389.89 L1335.35 324.27 L1337.41 339.75 L1339.48 367.03 L1341.54 344.18 L1343.61 313.65 L1345.67 339.75 L1347.74 412.75 L1349.8 407.59 L1351.87 327.22 L1353.93 400.21 L1356 410.24 L1358.06 383.99 L1360.12 369.98 L1362.19 408.32 L1364.25 386.94 L1366.32 381.04 L1368.38 417.17 L1370.45 416.88 L1372.51 376.91 L1374.58 382.52 L1376.64 414.66 L1378.71 384.43 L1380.77 385.47 L1382.83 400.95 L1384.9 402.42 L1386.96 392.84 L1389.03 388.41 L1391.09 400.95 L1393.16 413.19 L1395.22 402.42 L1397.29 393.58 L1399.35 396.97 L1401.41 389.15 L1403.48 389.15 L1405.54 363.35 L1407.61 361.58 L1409.67 398 L1411.74 398.74 L1413.8 392.84 L1415.87 364.53 L1417.93 376.62 L1420 397.71 L1422.06 364.82 L1424.12 388.41 L1426.19 381.78 L1428.25 371.46 L1430.61 351.99 L1432.68 389.89 L1434.74 376.62 L1436.81 312.18 L1438.87 365.56 L1440.94 361.87 L1443 330.17 L1445.06 363.35 L1447.13 366.29 L1449.19 378.09 L1451.26 330.61 L1453.32 350.07 L1455.39 342.7 L1457.45 342.7 L1459.52 323.24 L1461.58 395.49 L1463.65 367.77 L1465.71 358.18 L1467.77 368.51 L1469.84 357.45 L1471.9 361.13 L1473.97 361.13 L1476.03 382.52 L1478.1 384.73 L1480.16 385.47 L1482.23 302.15 L1484.29 305.83 L1486.35 353.02 L1488.42 323.24 L1490.48 363.35 L1492.55 366.59 L1494.61 363.35 L1496.68 363.05 L1498.74 386.2 L1500.81 400.21 L1502.87 369.24 L1504.94 360.4 L1507 360.4 L1509.06 389.59 L1511.13 359.66 L1513.19 358.63 L1515.26 365.56 L1517.32 407.59 L1519.39 381.78 L1521.75 353.02 L1523.81 398.44 L1525.88 395.05 L1527.94 381.78 L1530 375.44 L1532.07 402.42 L1534.13 408.76 L1536.2 403.16 L1538.26 385.91 L1540.33 410.53 L1542.39 396.97 L1544.46 400.95 L1546.52 399.47 L1548.59 394.02 L1550.65 403.9 L1552.71 394.31 L1554.78 388.41 L1556.84 380.01 L1558.91 403.6 L1560.97 402.42 L1563.04 400.95 L1565.1 371.46 L1567.46 363.05 L1569.53 378.09 L1571.59 416.14 L1573.65 378.09 L1575.72 372.19 L1577.78 402.42 L1579.85 427.49 L1581.91 407.59 L1583.98 424.54 L1586.04 436.78 L1588.11 433.39 L1590.17 410.53 L1592.24 420.86 L1594.3 414.22 L1596.36 389.59 L1598.43 403.16 L1600.49 417.17 L1602.56 394.31 L1604.62 380.75 L1606.69 407.59 L1608.75 400.95 L1610.82 385.47 L1612.88 314.68 L1614.94 318.37 L1617.01 393.58 L1619.07 382.52 L1621.14 400.95 L1623.2 413.48 L1625.27 412.75 L1627.33 390.63 L1629.4 403.16 L1631.46 418.2 L1633.53 392.84 L1635.62 380.01 L1637.68 425.28 L1640.04 426.76 L1642.11 391.36 L1644.17 394.31 L1646.24 370.72 L1648.3 381.78 L1650.36 344.91 L1652.43 409.8 L1654.49 417.91 L1656.56 378.09 L1658.62 394.31 L1660.69 398 L1662.75 363.35 L1664.82 354.94 L1666.88 399.92 L1668.94 318.81 L1671.01 327.95 L1673.07 379.57 L1675.14 388.41 L1677.2 360.4 L1679.27 330.17 L1681.33 333.85 L1683.4 362.61 L1685.46 321.32 L1687.53 344.18 L1689.59 381.04 L1691.65 383.7 L1693.72 323.24 L1695.78 388.41 L1697.85 399.92 L1699.91 392.1 L1701.98 365.12 L1704.04 410.24 L1706.11 350.81 L1708.47 327.95 L1710.53 388.41 L1712.59 385.47 L1714.66 384.43 L1716.72 302.88 L1718.79 338.28 L1720.85 342.41 L1722.92 296.69 L1724.98 301.41 L1727.05 324.71 L1729.11 311.73 L1731.18 298.46 L1733.24 298.46 L1735.3 312.47 L1737.37 311.73 L1739.43 299.94 L1741.5 302.15 L1743.56 308.78 L1745.63 317.93 L1747.69 305.83 L1749.76 306.57 L1751.82 298.46 L1753.88 322.79 L1755.95 314.98 L1758.01 303.62 L1760.08 305.83 L1762.14 315.42 L1764.21 298.46 L1766.27 296.99 L1768.34 303.62 L1770.4 299.94 L1772.47 300.23 L1774.53 302.15 L1776.59 314.68 L1778.66 309.52 L1780.72 294.77 L1782.79 296.25 L1784.85 296.99 L1786.92 293.3 L1788.98 292.56 L1791.05 299.94 L1793.11 299.94 L1795.18 301.41 L1797.24 299.2 L1799.3 293.74 L1801.37 295.51 L1803.43 299.94 L1805.5 294.77 L1807.56 292.27 L1809.63 291.09 L1811.69 290.79 L1813.76 291.09 L1815.82 294.77 L1818.18 279.29 L1820.24 285.19 L1822.31 295.51 L1824.37 287.4 L1826.44 288.88 L1828.5 289.61 L1830.57 285.93 L1832.63 290.35 L1834.7 310.26 L1836.76 291.38 L1838.82 293.3 L1840.89 296.25 L1842.95 298.76 L1845.02 299.94 L1847.08 288.88 L1849.15 293.3 L1851.21 296.69 L1853.28 293.74 L1855.34 292.56 L1857.41 296.99 L1859.47 288.14 L1861.53 294.77 L1863.6 298.46 L1865.66 298.46 L1867.73 309.52 L1869.79 308.49 L1872.15 302.88 L1874.22 329.43 L1876.28 360.4 L1878.35 379.57 L1880.41 387.68 L1882.47 369.24 L1884.54 388.41 L1886.6 404.64 L1888.67 391.36 L1890.73 400.21 L1892.8 424.99 L1894.86 387.68 L1897.22 424.54 L1899.29 369.24 L1901.35 360.4 L1903.41 351.55 L1905.48 314.68 L1907.54 302.88 L1909.61 296.99 L1911.67 302.15 L1913.74 299.94 L1915.8 294.04 L1917.87 297.72 L1919.93 288.14 L1922.26 289.32 L1924.47 290.35 L1926.68 290.79 L1928.75 289.61 L1930.81 294.04 L1932.88 294.33 L1934.94 286.66 L1937 286.07 L1939.07 294.48 L1941.13 294.04 L1943.2 290.35 L1945.26 290.35 L1947.03 289.91 L1949.1 299.64 L1951.16 296.25 L1953.23 294.33 L1955.29 296.25 L1957.35 294.33 L1959.42 294.04 L1961.48 287.4 L1963.55 296.99 L1965.61 306.13 L1967.68 297.72 L1969.74 296.69 L1971.81 296.69 L1973.87 305.83 L1975.94 300.67 L1978 296.25 L1980.06 298.17 L1982.13 298.76 L1984.19 300.67 L1986.26 302.59 L1988.32 319.84 L1990.39 307.31 L1992.45 309.52 L1994.52 311.44 L1996.58 313.94 L1998.65 320.88 L2000.71 307.31 L2002.77 307.31 L2004.84 317.34 L2006.9 317.93 L2008.97 318.37 L2011.33 302.15 L2013.39 311 L2015.46 321.32 L2017.52 329.72 L2019.59 329.13 L2021.65 312.47 L2023.71 322.06 L2025.78 333.85 L2027.84 347.42 L2029.91 334.59 L2031.97 338.72 L2034.04 336.06 L2036.1 336.06 L2038.17 343 L2040.23 343.44 L2042.29 334.59 L2044.36 342.7 L2046.42 355.97 L2048.49 336.51 L2050.55 360.4 L2052.62 379.57 L2054.68 353.02 L2056.75 346.39 L2058.81 369.69 L2060.88 367.77 L2062.94 360.4 L2065.3 343 L2067.36 373.67 L2069.43 376.62 L2071.49 369.24 L2073.56 348.3 L2075.62 373.67 L2077.69 400.21 L2079.75 382.22 L2081.82 386.94 L2083.88 392.84 L2085.94 419.38 L2088.01 371.9 L2090.07 380.3 L2092.14 401.69 L2094.2 393.58 L2095.53 393.58" fill="none" stroke="#000" stroke-width="3.0" stroke-linejoin="round" stroke-linecap="butt"/></g>
<path d="M139.4 442.2v-6.4M139.4 245.4v6.4M226.08 442.2v-6.4M226.08 245.4v6.4M313.08 442.2v-6.4M313.08 245.4v6.4M399.45 442.2v-6.4M399.45 245.4v6.4M485.81 442.2v-6.4M485.81 245.4v6.4M572.81 442.2v-6.4M572.81 245.4v6.4M659.81 442.2v-6.4M659.81 245.4v6.4M746.17 442.2v-6.4M746.17 245.4v6.4M832.54 442.2v-6.4M832.54 245.4v6.4M919.22 442.2v-6.4M919.22 245.4v6.4M1006.22 442.2v-6.4M1006.22 245.4v6.4M1092.9 442.2v-6.4M1092.9 245.4v6.4M1179.27 442.2v-6.4M1179.27 245.4v6.4M1265.95 442.2v-6.4M1265.95 245.4v6.4M1352.95 442.2v-6.4M1352.95 245.4v6.4M1439.31 442.2v-6.4M1439.31 245.4v6.4M1525.99 442.2v-6.4M1525.99 245.4v6.4M1612.67 442.2v-6.4M1612.67 245.4v6.4M1699.67 442.2v-6.4M1699.67 245.4v6.4M1786.04 442.2v-6.4M1786.04 245.4v6.4M1872.4 442.2v-6.4M1872.4 245.4v6.4M1959.4 442.2v-6.4M1959.4 245.4v6.4M2046.4 442.2v-6.4M2046.4 245.4v6.4M82.4 442.2h5.6M2103.4 442.2h-5.6M82.4 409.4h5.6M2103.4 409.4h-5.6M82.4 376.6h5.6M2103.4 376.6h-5.6M82.4 343.8h5.6M2103.4 343.8h-5.6M82.4 311h5.6M2103.4 311h-5.6M82.4 278.2h5.6M2103.4 278.2h-5.6M82.4 245.4h5.6M2103.4 245.4h-5.6" stroke="#000" stroke-width="1.0" fill="none"/>
<rect x="82.4" y="245.4" width="2021" height="196.8" fill="none" stroke="#000" stroke-width="1.5"/>
<g stroke="#000" stroke-width="0.4"><text x="76.4" y="448.4" text-anchor="end">300</text>
<text x="76.4" y="415.6" text-anchor="end">400</text>
<text x="76.4" y="382.8" text-anchor="end">500</text>
<text x="76.4" y="350" text-anchor="end">600</text>
<text x="76.4" y="317.2" text-anchor="end">700</text>
<text x="76.4" y="284.4" text-anchor="end">800</text>
<text x="76.4" y="251.6" text-anchor="end">900</text></g>
<text transform="translate(12.70 343.90) scale(0.9 1) rotate(-90)" font-family="'DejaVu Sans','Liberation Sans',sans-serif" font-size="19.44" text-anchor="middle" fill="#000" stroke="#000" stroke-width="0.4">V</text><text transform="translate(32.45 344.10) scale(0.9 1) rotate(-90)" font-family="'DejaVu Sans','Liberation Sans',sans-serif" font-size="19.44" text-anchor="middle" fill="#000" stroke="#000" stroke-width="0.4">[Km/s]</text>
</g>
<g id="panel2">

<g clip-path="url(#c2)"><path d="M82.37 561 L84.44 575.75 L86.5 584.3 L88.57 558.35 L90.63 565.43 L92.7 580.18 L94.76 616.3 L96.82 602 L98.89 608.93 L100.95 608.93 L103.02 597.13 L105.08 630.61 L107.15 602.29 L109.21 586.07 L111.28 631.49 L113.34 622.2 L115.41 639.9 L117.47 625.89 L119.53 628.1 L121.6 636.95 L123.66 650.22 L125.73 658.63 L127.79 658.33 L129.86 653.17 L131.92 656.56 L133.99 644.32 L136.05 652.73 L138.12 631.05 L140.18 645.06 L142.24 653.17 L144.31 629.58 L146.37 669.83 L148.44 662.76 L150.5 670.87 L152.57 650.22 L154.63 676.76 L156.7 665.71 L158.76 636.65 L160.82 670.13 L162.89 651.7 L164.95 664.97 L167.17 575.46 L169.23 656.86 L171.29 667.18 L173.36 654.65 L175.42 669.39 L177.49 664.97 L179.55 672.34 L181.62 648.3 L183.68 661.28 L185.75 666.88 L187.81 666.88 L190.17 652.14 L192.24 664.23 L194.3 676.03 L196.36 674.55 L198.43 654.2 L200.49 665.71 L202.56 670.13 L204.62 669.39 L206.69 663.05 L208.75 673.08 L210.82 667.92 L212.88 665.71 L214.94 665.71 L217.01 670.87 L219.07 664.23 L221.14 661.58 L223.2 675.29 L225.27 663.05 L227.33 663.49 L229.4 673.08 L231.46 664.23 L233.53 650.22 L235.59 670.13 L237.65 665.41 L239.72 673.08 L241.78 660.54 L243.85 662.76 L245.91 667.18 L247.98 668.65 L250.04 673.82 L252.4 651.7 L254.47 668.65 L256.53 675.29 L258.59 663.94 L260.66 675.29 L262.72 675.29 L264.79 662.76 L266.85 662.76 L268.92 678.24 L270.98 668.65 L273.05 665.71 L275.11 669.39 L277.18 676.03 L279.24 669.39 L281.3 665.41 L283.37 675.29 L285.43 676.03 L287.5 673.82 L289.56 663.49 L291.63 673.08 L293.69 671.6 L295.76 668.36 L297.82 670.87 L299.88 673.08 L301.95 669.39 L304.01 665.71 L306.08 663.49 L308.14 670.87 L310.21 670.87 L312.27 661.28 L314.34 676.03 L316.4 675.29 L318.47 666.44 L320.53 669.39 L322.59 675.29 L324.66 668.65 L327.02 662.02 L329.08 665.71 L331.15 675.29 L333.21 675.29 L335.28 658.63 L337.34 670.87 L339.41 675.29 L341.47 673.08 L343.53 668.65 L345.6 673.08 L347.66 674.55 L349.73 671.6 L351.79 670.42 L353.86 673.08 L355.92 672.34 L357.99 676.03 L360.05 667.47 L362.12 675.29 L364.18 671.6 L366.24 667.18 L368.31 670.87 L370.37 673.82 L372.44 676.03 L374.5 678.24 L376.57 672.34 L378.63 673.08 L380.7 668.65 L382.76 674.85 L384.82 673.08 L386.89 671.6 L388.95 671.31 L391.02 672.34 L393.08 672.34 L393.85 671.6 L398.27 673.08 L401.22 671.6 L403.43 669.39 L405.65 673.08 L408.59 671.6 L411.54 670.13 L413.76 668.95 L415.97 672.34 L418.18 670.42 L421.13 670.87 L424.08 669.83 L426.29 668.65 L428.5 671.6 L431.45 669.39 L434.4 667.92 L436.61 670.87 L438.82 671.6 L440.74 666.88 L443.25 668.65 L445.46 670.87 L448.41 669.39 L452.83 669.39 L457.26 668.95 L461.68 668.65 L466.11 668.36 L470.53 667.92 L473.48 666.44 L476.43 666.88 L479.38 665.41 L482.33 665.71 L485.28 664.23 L488.23 663.49 L491.18 661.28 L494.12 660.1 L497.07 658.33 L500.02 656.56 L502.97 655.68 L505.18 657.59 L507.4 654.65 L509.61 650.96 L511.53 647.27 L513.59 652.43 L515.65 650.22 L517.72 647.27 L519.78 643.59 L521.85 652.43 L523.91 642.11 L525.98 631.05 L528.04 621.17 L530.11 636.21 L532.17 630.31 L534.24 580.18 L536.3 574.28 L538.66 525.91 L540.72 571.33 L542.79 569.85 L544.85 543.31 L546.92 496.56 L548.98 562.48 L551.05 634 L553.11 636.95 L555.18 629.58 L557.24 634.74 L559.3 639.16 L561.37 642.11 L563.43 643.59 L565.65 645.8 L567.86 648.01 L570.81 650.22 L573.76 652.43 L576.71 653.91 L579.65 656.86 L582.6 659.81 L584.82 662.02 L587.76 660.99 L590.71 662.46 L594.4 664.23 L598.09 665.41 L602.51 664.23 L606.2 665.71 L609.88 667.18 L613.57 667.47 L617.26 668.36 L620.94 668.95 L624.63 670.13 L627.58 670.87 L629.79 664.97 L632 670.13 L635.69 670.42 L640.12 671.6 L644.54 671.31 L648.96 671.6 L651.91 672.34 L654.86 670.87 L657.81 672.34 L660.76 671.6 L663.71 673.08 L666.66 673.82 L669.61 672.34 L672.56 673.08 L675.51 672.34 L678.46 673.37 L681.41 672.78 L684.35 673.08 L687.3 673.82 L690.25 672.34 L693.2 673.37 L696.15 671.6 L698.36 674.55 L700.58 673.82 L702.79 671.6 L704.59 668.36 L706.8 673.08 L709.01 673.82 L710.93 676.76 L712.99 663.49 L715.06 674.55 L717.12 672.34 L719.18 664.23 L721.25 674.55 L723.31 674.55 L725.38 675.29 L727.44 664.23 L729.51 674.55 L731.57 674.55 L733.64 671.6 L735.7 670.13 L737.76 673.82 L739.83 670.13 L741.89 665.71 L743.96 669.39 L746.02 675.29 L748.09 676.03 L750.15 661.58 L752.22 668.65 L754.28 673.08 L756.35 676.32 L758.41 668.36 L760.47 670.87 L762.54 670.13 L764.6 661.28 L766.67 670.13 L768.73 673.82 L770.8 668.65 L772.86 662.76 L774.93 673.82 L776.99 673.37 L779.06 673.82 L781.41 657.59 L783.48 670.13 L785.54 673.82 L787.61 668.65 L789.67 664.23 L791.74 670.13 L793.8 668.65 L795.87 668.65 L797.93 646.53 L800 651.7 L802.06 669.39 L804.12 662.76 L806.19 665.71 L808.25 665.41 L810.32 670.87 L812.38 673.82 L814.45 666.88 L816.51 672.78 L818.58 663.49 L820.64 667.18 L822.71 671.31 L824.77 665.71 L826.83 659.07 L828.9 671.6 L830.96 660.54 L833.03 665.71 L835.09 669.39 L837.16 662.46 L839.22 673.82 L841.29 653.17 L843.35 668.65 L845.41 668.65 L847.48 670.87 L849.54 666.44 L851.61 667.18 L853.67 675.73 L855.74 667.18 L857.8 665.41 L859.87 668.65 L861.93 672.34 L864 673.08 L866.06 667.92 L868.12 673.82 L870.19 663.49 L872.25 656.56 L874.32 662.02 L876.38 665.71 L878.45 666.44 L880.51 670.13 L882.58 674.55 L884.64 667.18 L886.71 663.49 L888.77 677.5 L890.83 673.08 L892.9 669.39 L894.96 667.18 L897.03 667.18 L899.98 667.18 L903.22 667.47 L905.29 677.5 L907.35 670.87 L909.41 667.18 L911.48 667.18 L913.54 664.97 L915.61 675.29 L917.67 670.87 L919.74 671.6 L921.8 669.39 L923.87 668.65 L925.93 665.71 L928 670.13 L930.06 670.87 L932.12 657.3 L934.19 668.65 L936.25 672.78 L938.32 668.65 L940.38 669.39 L942.45 672.34 L944.51 658.33 L946.58 673.08 L948.64 673.08 L950.71 673.82 L952.77 673.82 L954.83 661.28 L956.9 677.8 L958.96 664.23 L961.03 664.23 L963.09 662.76 L965.16 671.6 L967.22 670.13 L969.29 664.97 L971.35 662.76 L973.41 664.97 L975.48 675.29 L977.54 653.91 L979.61 676.03 L981.67 663.05 L983.74 662.76 L985.8 664.23 L987.87 677.5 L989.93 672.34 L992.29 651.7 L994.35 665.71 L996.42 666.44 L998.48 668.36 L1000.55 669.39 L1002.61 669.39 L1004.68 675.29 L1006.74 664.23 L1008.81 659.81 L1010.87 673.08 L1012.94 676.03 L1013.55 676.32 L1015.62 667.18 L1017.68 665.71 L1019.75 654.2 L1021.81 673.08 L1023.88 665.71 L1025.94 662.02 L1028 665.71 L1030.07 665.71 L1032.13 666.44 L1034.2 673.37 L1036.26 662.76 L1038.62 657.3 L1040.69 665.71 L1042.75 670.87 L1044.82 664.97 L1046.88 651.7 L1048.94 670.13 L1051.01 664.23 L1053.07 668.65 L1055.14 662.02 L1057.2 663.49 L1059.27 665.71 L1061.33 664.23 L1063.4 675.29 L1065.46 673.82 L1067.53 664.23 L1069.59 669.39 L1071.65 648.45 L1073.72 664.23 L1075.78 651.4 L1077.85 667.92 L1079.91 661.28 L1081.98 670.13 L1084.04 656.86 L1086.11 657.59 L1088.17 659.81 L1090.24 670.13 L1092.3 619.99 L1094.36 664.97 L1096.43 667.92 L1098.49 656.86 L1100.85 641.08 L1102.92 662.76 L1104.98 666.44 L1107.05 665.71 L1109.11 645.8 L1111.18 659.81 L1113.24 644.76 L1115.3 668.65 L1117.37 668.65 L1119.43 652.43 L1121.5 603.77 L1123.56 672.34 L1125.63 621.17 L1127.69 659.81 L1129.76 632.53 L1131.82 653.91 L1133.88 664.97 L1135.95 638.42 L1138.01 650.22 L1140.08 652.73 L1142.14 642.11 L1144.21 652.43 L1146.27 638.42 L1148.34 629.58 L1150.4 623.68 L1152.47 627.36 L1154.53 637.69 L1156.59 630.31 L1158.66 629.58 L1160.72 645.06 L1162.79 596.4 L1164.85 591.97 L1166.92 628.84 L1168.98 612.62 L1171.05 613.35 L1173.11 645.8 L1175.18 591.97 L1177.24 590.5 L1179.6 562.48 L1181.66 622.94 L1183.73 603.77 L1185.79 608.93 L1187.86 634.74 L1189.92 577.23 L1191.99 547.29 L1194.05 630.61 L1196.12 569.56 L1198.18 583.86 L1200.24 571.03 L1202.31 614.09 L1204.37 574.28 L1206.44 594.92 L1208.5 557.32 L1210.57 580.18 L1212.63 606.72 L1214.7 571.33 L1216.76 575.01 L1218.82 560.71 L1220.89 585.34 L1222.95 594.18 L1225.02 594.18 L1227.08 487.71 L1229.15 632.53 L1231.51 625.89 L1233.57 589.02 L1235.64 557.32 L1237.7 590.5 L1239.76 653.91 L1241.83 602.29 L1243.89 634 L1245.96 644.32 L1248.02 655.38 L1250.09 656.86 L1252.15 652.43 L1254.22 654.65 L1256.28 655.38 L1258.35 661.28 L1260.41 660.54 L1262.47 662.02 L1264.54 659.07 L1266.6 658.33 L1268.67 660.54 L1270.73 657.59 L1272.8 659.81 L1274.86 650.22 L1276.93 662.76 L1278.99 645.35 L1281.06 654.65 L1283.12 659.81 L1285.18 657.59 L1287.25 656.86 L1289.31 634.44 L1291.38 669.39 L1293.44 652.43 L1295.51 660.54 L1297.57 657.59 L1299.64 669.39 L1301.7 652.73 L1303.76 669.39 L1305.83 657.59 L1307.89 664.23 L1309.96 643.59 L1312.02 673.82 L1314.09 633.26 L1316.15 664.97 L1318.22 625.15 L1320.28 670.13 L1322.35 670.87 L1322.67 670.87 L1324.73 664.23 L1326.8 650.96 L1328.86 665.71 L1330.93 669.39 L1332.99 672.34 L1335.06 654.2 L1337.12 670.87 L1339.18 670.13 L1341.25 648.45 L1343.31 670.13 L1345.38 673.82 L1347.44 672.34 L1349.51 656.12 L1351.57 664.97 L1353.64 666.44 L1355.7 664.97 L1357.76 650.22 L1359.83 668.65 L1361.89 660.54 L1363.96 661.28 L1366.02 668.65 L1368.09 631.79 L1370.15 657.59 L1372.22 655.38 L1374.28 662.02 L1376.35 666.44 L1378.41 659.51 L1380.47 670.13 L1382.54 664.23 L1384.6 661.28 L1386.67 664.97 L1388.73 667.18 L1390.8 672.34 L1392.86 664.23 L1394.93 659.07 L1396.99 667.18 L1399.06 662.46 L1401.12 665.71 L1403.18 664.23 L1405.25 663.94 L1407.31 674.55 L1409.38 667.92 L1411.44 666.44 L1413.51 664.23 L1415.57 668.36 L1417.64 671.6 L1419.7 668.65 L1421.76 668.36 L1423.83 668.65 L1425.89 670.87 L1427.96 665.41 L1430.02 674.26 L1432.09 664.97 L1434.15 660.54 L1436.22 666.44 L1438.28 669.83 L1440.35 670.42 L1442.41 670.13 L1444.47 678.24 L1446.54 667.18 L1448.6 674.55 L1450.67 665.71 L1452.73 673.08 L1454.8 668.65 L1456.86 666.88 L1458.93 674.85 L1460.99 661.28 L1463.06 672.34 L1465.12 670.87 L1467.18 669.39 L1469.25 668.65 L1471.31 668.65 L1473.38 674.85 L1475.44 668.65 L1477.51 666.44 L1479.57 666.15 L1481.64 666.88 L1483.7 678.24 L1485.76 666.88 L1487.83 672.78 L1489.89 665.41 L1491.96 672.34 L1494.02 667.18 L1496.09 678.24 L1498.15 664.23 L1500.22 673.82 L1502.28 661.58 L1504.35 668.36 L1506.41 673.08 L1508.47 667.92 L1510.54 669.83 L1512.6 673.08 L1514.67 678.24 L1516.73 666.44 L1518.8 666.44 L1520.86 674.55 L1522.93 675.29 L1524.99 667.18 L1527.06 673.08 L1529.12 673.37 L1531.18 674.26 L1533.25 670.13 L1535.31 669.39 L1537.38 675.29 L1539.44 668.36 L1541.51 670.13 L1543.57 668.95 L1545.64 675.29 L1547.7 669.39 L1549.76 677.21 L1551.83 668.65 L1553.89 664.53 L1555.96 670.13 L1558.02 675.29 L1560.09 671.6 L1562.15 658.33 L1564.22 669.39 L1566.28 670.13 L1568.35 678.24 L1570.41 673.82 L1572.47 669.83 L1574.54 677.21 L1576.6 672.34 L1578.67 666.44 L1580.73 669.39 L1582.8 673.82 L1584.86 668.65 L1586.93 656.86 L1588.99 652.43 L1591.06 665.71 L1593.12 659.07 L1595.18 671.6 L1597.25 673.82 L1599.31 663.49 L1601.38 661.28 L1603.44 668.65 L1605.51 664.97 L1607.57 662.02 L1609.64 666.44 L1611.7 667.92 L1613.76 676.03 L1615.83 677.5 L1617.89 666.88 L1619.96 670.87 L1622.02 672.34 L1624.09 663.2 L1626.15 665.71 L1628.22 670.87 L1630.28 660.54 L1632.35 654.65 L1633.85 655.09 L1635.91 677.21 L1637.98 667.18 L1640.04 664.23 L1642.11 662.76 L1644.17 674.55 L1646.24 666.44 L1648.3 665.71 L1650.36 674.55 L1652.43 670.13 L1654.49 658.63 L1656.56 664.23 L1658.62 676.03 L1660.69 665.71 L1662.75 666.44 L1664.82 676.03 L1666.88 670.87 L1668.94 658.04 L1671.01 667.18 L1673.07 675.29 L1675.14 667.18 L1677.2 659.81 L1679.27 665.71 L1681.33 674.55 L1683.4 667.18 L1685.46 666.44 L1687.53 675.29 L1689.59 665.71 L1691.95 654.65 L1694.01 666.44 L1696.08 677.21 L1698.14 663.49 L1700.21 664.23 L1702.27 676.03 L1704.34 665.71 L1706.4 660.99 L1708.47 673.08 L1710.53 662.76 L1712.59 658.33 L1714.66 668.65 L1716.72 676.76 L1718.79 674.55 L1720.85 667.18 L1722.92 674.55 L1724.98 674.85 L1727.05 673.08 L1729.11 670.87 L1731.18 673.08 L1733.24 674.85 L1735.3 673.82 L1738.55 673.82 L1741.5 673.37 L1744.45 673.08 L1745.92 670.87 L1747.4 673.82 L1749.61 670.87 L1751.82 673.08 L1754.03 669.83 L1756.24 673.08 L1758.46 670.87 L1760.67 672.34 L1763.62 671.31 L1766.57 672.34 L1770.25 670.87 L1773.94 673.08 L1776.89 672.34 L1779.1 670.42 L1781.31 672.34 L1784.26 671.6 L1787.21 672.34 L1790.16 671.6 L1793.11 670.42 L1796.06 671.6 L1799.01 670.42 L1801.96 670.87 L1804.91 670.87 L1807.86 670.13 L1811.54 670.87 L1815.23 669.39 L1818.18 668.36 L1821.13 668.65 L1824.08 667.18 L1827.03 667.92 L1829.98 667.18 L1832.93 667.47 L1834.7 673.08 L1836.76 664.53 L1838.82 665.71 L1841.77 664.53 L1844.72 663.94 L1847.67 663.05 L1850.62 662.46 L1853.57 661.28 L1856.52 660.1 L1859.47 659.81 L1861.68 656.86 L1863.89 655.09 L1866.11 653.17 L1868.32 654.2 L1870.09 646.83 L1872.15 653.17 L1874.22 645.06 L1876.28 639.9 L1878.35 574.28 L1880.41 621.47 L1882.47 628.1 L1884.54 624.41 L1886.6 568.67 L1888.67 591.97 L1890.73 600.82 L1892.8 576.49 L1894.86 608.19 L1897.22 561 L1899.29 596.4 L1901.35 632.53 L1903.41 639.16 L1905.48 643.59 L1907.54 650.22 L1909.61 656.12 L1911.67 654.65 L1913.74 656.12 L1915.8 657.59 L1917.87 656.12 L1919.93 659.07 L1922.26 662.02 L1925.21 663.05 L1928.16 663.94 L1931.11 664.97 L1934.06 663.49 L1937 665.41 L1939.95 664.97 L1942.9 666.88 L1945.85 667.47 L1948.8 667.92 L1951.75 667.47 L1954.7 668.65 L1957.65 668.95 L1960.6 669.39 L1963.55 670.13 L1966.5 669.83 L1969.45 670.42 L1972.4 670.87 L1975.35 670.87 L1978.29 671.6 L1981.24 672.34 L1984.19 671.6 L1987.14 672.34 L1990.09 671.31 L1993.04 671.9 L1995.99 672.34 L1998.94 671.9 L2001.89 673.08 L2004.84 673.08 L2007.79 673.37 L2010.74 673.82 L2013.69 673.08 L2016.64 673.82 L2019.59 669.39 L2021.8 673.82 L2024.01 672.34 L2026.22 671.31 L2028.43 672.34 L2031.38 672.34 L2034.04 670.87 L2036.1 674.26 L2038.17 670.13 L2040.23 671.6 L2042.44 673.37 L2044.65 674.26 L2047.6 674.26 L2050.55 673.08 L2052.62 594.63 L2054.98 673.82 L2057.04 674.26 L2059.11 672.34 L2061.17 670.42 L2063.24 674.26 L2065.3 674.85 L2068.25 674.26 L2071.2 674.85 L2074.15 674.26 L2077.1 671.6 L2079.46 669.39 L2081.52 672.34 L2083.59 675.29 L2085.94 666.44 L2088.01 675.73 L2090.07 675.29 L2092.14 665.41 L2094.2 674.26 L2095.53 675.29" fill="none" stroke="#000" stroke-width="3.0" stroke-linejoin="round" stroke-linecap="butt"/></g>
<path d="M139.4 678.5v-6.4M139.4 481.7v6.4M226.08 678.5v-6.4M226.08 481.7v6.4M313.08 678.5v-6.4M313.08 481.7v6.4M399.45 678.5v-6.4M399.45 481.7v6.4M485.81 678.5v-6.4M485.81 481.7v6.4M572.81 678.5v-6.4M572.81 481.7v6.4M659.81 678.5v-6.4M659.81 481.7v6.4M746.17 678.5v-6.4M746.17 481.7v6.4M832.54 678.5v-6.4M832.54 481.7v6.4M919.22 678.5v-6.4M919.22 481.7v6.4M1006.22 678.5v-6.4M1006.22 481.7v6.4M1092.9 678.5v-6.4M1092.9 481.7v6.4M1179.27 678.5v-6.4M1179.27 481.7v6.4M1265.95 678.5v-6.4M1265.95 481.7v6.4M1352.95 678.5v-6.4M1352.95 481.7v6.4M1439.31 678.5v-6.4M1439.31 481.7v6.4M1525.99 678.5v-6.4M1525.99 481.7v6.4M1612.67 678.5v-6.4M1612.67 481.7v6.4M1699.67 678.5v-6.4M1699.67 481.7v6.4M1786.04 678.5v-6.4M1786.04 481.7v6.4M1872.4 678.5v-6.4M1872.4 481.7v6.4M1959.4 678.5v-6.4M1959.4 481.7v6.4M2046.4 678.5v-6.4M2046.4 481.7v6.4M82.4 678.5h5.6M2103.4 678.5h-5.6M82.4 645.7h5.6M2103.4 645.7h-5.6M82.4 612.9h5.6M2103.4 612.9h-5.6M82.4 580.1h5.6M2103.4 580.1h-5.6M82.4 547.3h5.6M2103.4 547.3h-5.6M82.4 514.5h5.6M2103.4 514.5h-5.6M82.4 481.7h5.6M2103.4 481.7h-5.6" stroke="#000" stroke-width="1.0" fill="none"/>
<rect x="82.4" y="481.7" width="2021" height="196.8" fill="none" stroke="#000" stroke-width="1.5"/>
<g stroke="#000" stroke-width="0.4"><text x="76.4" y="684.7" text-anchor="end">0</text>
<text x="76.4" y="651.9" text-anchor="end">1</text>
<text x="76.4" y="619.1" text-anchor="end">2</text>
<text x="76.4" y="586.3" text-anchor="end">3</text>
<text x="76.4" y="553.5" text-anchor="end">4</text>
<text x="76.4" y="520.7" text-anchor="end">5</text>
<text x="76.4" y="487.9" text-anchor="end">6</text></g>
<text transform="translate(31.35 577.20) scale(0.9 1) rotate(-90)" font-family="'DejaVu Sans','Liberation Sans',sans-serif" font-size="19.44" text-anchor="middle" fill="#000" stroke="#000" stroke-width="0.4">n</text><text transform="translate(53.40 577.75) scale(0.9 1) rotate(-90)" font-family="'Liberation Serif','DejaVu Serif',serif" font-size="20.5" text-anchor="middle" fill="#000" stroke="#000" stroke-width="0.2">[<tspan font-style="italic">cm</tspan><tspan font-size="13.6" dy="-7.5">−3</tspan><tspan dy="7.5">]</tspan></text>
</g>
<g id="panel3">

<g clip-path="url(#c3)"><path d="M82.37 878.11 L84.14 830.18 L86.21 882.53 L88.57 877.37 L90.63 889.17 L92.7 889.17 L94.76 889.17 L96.82 894.33 L98.89 900.97 L100.95 883.27 L103.02 890.65 L105.08 904.36 L107.15 903.18 L109.21 896.1 L111.28 896.54 L113.34 903.47 L115.41 887.7 L117.47 896.54 L119.53 886.22 L121.6 881.8 L123.66 818.83 L125.88 881.06 L128.09 892.86 L130.15 896.54 L132.22 898.76 L134.28 871.18 L136.35 902.44 L138.41 900.23 L140.47 892.86 L142.54 886.96 L144.6 869.26 L146.67 868.53 L148.73 864.1 L150.8 895.07 L152.86 822.81 L154.93 897.28 L156.99 909.82 L159.06 843.01 L161.12 904.65 L163.18 881.06 L165.25 905.39 L167.31 861.89 L169.38 897.28 L171.44 898.76 L173.51 892.12 L175.57 895.81 L177.64 894.33 L179.7 904.65 L181.76 892.86 L183.83 882.53 L185.89 882.24 L187.96 903.47 L190.02 879.59 L192.24 864.1 L194.45 897.28 L196.51 906.87 L198.58 889.17 L200.64 902.44 L202.71 887.7 L204.77 903.18 L206.83 864.4 L208.9 890.65 L210.96 894.33 L213.03 883.27 L215.09 886.22 L217.16 889.17 L219.22 892.12 L221.29 860.12 L223.35 903.92 L225.41 892.12 L227.48 889.17 L229.54 902.44 L231.61 907.6 L233.67 904.65 L235.74 899.49 L237.8 892.86 L239.87 898.02 L241.93 900.97 L244 899.49 L246.06 902.44 L248.12 893.59 L250.19 903.47 L252.25 898.76 L254.32 886.22 L256.38 888.43 L258.45 907.31 L260.51 892.12 L262.58 898.02 L264.64 900.23 L266.71 866.31 L268.77 878.11 L270.83 886.22 L272.9 875.16 L274.96 848.32 L277.03 882.53 L279.09 896.54 L281.16 846.41 L283.22 870.74 L285.29 892.86 L287.35 902.44 L289.41 857.47 L291.48 823.84 L293.54 891.38 L295.61 890.65 L297.67 858.2 L299.74 895.81 L301.8 898.02 L303.87 895.81 L306.23 875.9 L308.29 896.54 L310.35 901.71 L312.42 864.54 L314.48 875.9 L316.55 889.91 L318.61 897.28 L320.68 820.3 L322.74 866.31 L324.81 895.07 L326.87 892.86 L328.94 847.88 L331 879.59 L333.06 902.88 L335.13 885.48 L337.19 863.66 L339.26 878.85 L341.32 890.65 L343.39 878.11 L345.45 866.61 L347.52 888.73 L349.58 886.22 L351.65 870 L353.71 863.07 L355.77 878.11 L357.84 890.2 L360.2 850.09 L362.26 875.9 L364.33 872.95 L366.39 864.84 L368.46 855.99 L370.52 870.74 L372.59 883.27 L374.65 892.86 L376.71 878.11 L378.78 876.64 L380.84 860.71 L382.91 872.21 L384.97 873.39 L387.04 872.21 L389.1 864.84 L391.17 875.9 L393.23 875.16 L395.32 872.95 L397.39 872.21 L399.45 873.69 L401.52 881.5 L403.58 868.08 L405.65 872.95 L407.71 878.55 L409.77 875.9 L411.84 873.69 L413.9 880.32 L415.97 869.26 L418.03 870 L420.1 870 L422.16 874.87 L424.23 867.79 L426.29 867.05 L428.35 866.31 L430.42 866.02 L432.48 862.18 L434.55 867.05 L436.61 867.79 L438.68 870 L440.74 873.98 L442.81 866.61 L444.87 866.31 L446.94 868.97 L449 872.21 L451.06 865.58 L453.13 863.36 L455.19 864.1 L457.26 867.05 L459.32 865.13 L461.39 866.31 L463.45 865.58 L465.52 863.36 L467.58 862.63 L469.65 863.66 L471.71 867.79 L473.77 861.89 L475.84 864.54 L477.9 855.99 L479.97 858.94 L482.03 855.25 L484.39 853.04 L486.46 858.2 L488.52 860.41 L490.59 857.47 L492.65 855.99 L494.71 854.22 L496.78 853.04 L498.84 855.99 L500.91 852.3 L502.97 848.62 L505.04 842.42 L507.1 844.93 L509.17 849.35 L511.23 852.75 L513.29 841.24 L515.36 840.95 L517.42 847.88 L519.49 840.51 L521.55 842.72 L523.62 836.08 L525.68 845.37 L527.75 823.25 L529.81 827.97 L531.88 825.02 L533.94 887.7 L536 861.89 L538.07 882.53 L540.13 867.79 L542.2 888.73 L544.26 881.06 L546.62 894.33 L548.69 850.09 L550.75 822.81 L553.11 815.44 L555.18 831.66 L557.24 822.81 L559.3 824.29 L561.37 833.13 L563.43 831.22 L565.5 830.92 L567.56 832.4 L569.63 840.51 L571.69 845.96 L573.76 842.72 L575.82 845.67 L577.88 847.14 L579.95 848.91 L582.01 847.14 L584.08 846.85 L586.14 850.83 L588.21 854.52 L590.27 857.47 L592.34 860.71 L594.4 856.73 L596.47 856.29 L598.53 859.68 L600.59 864.54 L602.66 861.59 L604.72 860.71 L606.79 865.13 L608.85 860.41 L610.92 861.15 L612.98 861.89 L615.05 865.58 L617.11 864.84 L619.18 868.08 L621.24 868.53 L623.3 868.08 L625.37 866.31 L627.43 867.49 L629.5 864.1 L631.56 871.03 L633.63 867.79 L635.69 867.49 L637.76 867.05 L639.82 867.49 L641.88 872.21 L643.95 872.21 L646.01 868.53 L648.08 872.95 L650.14 873.69 L652.21 877.82 L654.27 874.87 L656.34 870.74 L658.4 875.16 L660.47 875.16 L662.53 873.69 L664.59 871.47 L666.66 875.16 L668.72 878.11 L670.79 875.16 L672.85 871.92 L674.92 876.93 L676.98 874.42 L679.05 876.34 L681.11 878.11 L683.18 876.93 L685.24 877.37 L687.3 868.97 L689.37 875.9 L691.43 873.69 L693.5 879.88 L695.56 873.98 L697.63 880.32 L699.69 886.22 L702.05 899.49 L704.12 867.05 L704.73 867.05 L706.8 876.64 L708.86 884.01 L710.93 901.41 L712.99 859.68 L715.06 882.83 L717.12 878.11 L719.18 878.85 L721.25 881.8 L723.31 883.27 L725.38 899.2 L727.44 877.37 L729.51 880.32 L731.57 884.01 L733.64 895.81 L735.7 886.22 L737.76 882.24 L739.83 901.41 L741.89 886.96 L743.96 881.8 L746.02 881.8 L748.09 889.17 L750.15 895.07 L752.22 894.33 L754.28 881.35 L756.35 901.71 L758.41 900.97 L760.47 893.59 L762.54 889.91 L764.6 898.76 L766.67 888.43 L768.73 905.39 L770.8 901.71 L772.86 895.81 L774.93 892.86 L776.99 891.68 L779.06 907.6 L781.12 893.59 L783.18 894.63 L785.25 894.63 L787.31 907.6 L789.38 902.44 L791.44 904.65 L793.51 907.6 L795.57 907.6 L797.64 902.44 L799.7 902.44 L801.76 909.37 L803.83 902.44 L805.89 903.92 L807.96 904.36 L810.02 902.88 L812.09 906.87 L814.15 902.88 L816.22 902.44 L818.28 909.08 L820.35 902.88 L822.41 904.65 L824.47 897.58 L826.54 899.49 L828.6 900.97 L830.67 908.34 L832.73 903.18 L834.8 902.44 L836.86 899.49 L838.93 906.13 L840.99 902.44 L843.06 906.87 L845.12 906.13 L847.18 899.94 L849.25 903.18 L851.31 906.87 L853.38 909.08 L855.44 909.08 L857.51 906.13 L859.57 902.44 L861.64 906.13 L863.7 901.71 L865.76 901.71 L868.12 887.7 L870.19 907.6 L872.25 906.13 L874.32 897.28 L876.38 900.23 L878.45 903.92 L880.51 902.88 L882.58 896.54 L884.64 892.56 L887 857.76 L889.06 904.65 L891.13 901.71 L893.19 900.23 L895.26 892.86 L897.32 897.28 L899.39 878.85 L901.45 888.43 L903.52 879.59 L905.58 898.02 L907.65 898.76 L909.71 899.49 L911.77 895.07 L913.84 889.61 L915.9 894.33 L917.97 905.39 L920.03 890.65 L922.1 907.6 L924.16 901.71 L926.23 904.65 L928.29 903.18 L930.35 891.68 L932.42 901.71 L934.48 900.23 L936.55 894.63 L938.61 898.02 L940.68 900.23 L942.74 906.13 L944.81 870.74 L946.87 876.64 L948.94 884.75 L951 892.86 L953.06 898.02 L955.13 876.64 L957.19 906.87 L959.26 904.65 L961.32 898.76 L963.39 879.59 L965.45 901.71 L967.52 894.33 L969.58 906.13 L971.65 890.65 L973.71 879.88 L975.77 908.34 L977.84 882.24 L979.9 898.76 L981.97 906.87 L984.03 901.71 L986.1 879.88 L988.16 908.34 L990.23 909.08 L992.29 896.54 L994.35 890.2 L996.42 901.71 L998.48 878.85 L1000.55 898.76 L1002.61 892.12 L1004.68 900.23 L1006.74 906.87 L1008.81 890.65 L1010.87 880.32 L1012.94 901.71 L1013.55 902.44 L1015.62 896.1 L1017.68 905.39 L1019.75 888.73 L1021.81 903.92 L1023.88 904.36 L1025.94 876.93 L1028 896.1 L1030.07 897.28 L1032.13 893.59 L1034.2 888.73 L1036.26 904.95 L1038.62 884.75 L1040.69 903.18 L1042.75 892.86 L1044.82 886.96 L1046.88 892.86 L1048.94 895.07 L1051.01 895.81 L1053.07 896.1 L1055.14 897.28 L1057.2 881.8 L1059.27 897.28 L1061.33 868.97 L1063.4 908.34 L1065.46 881.35 L1067.53 894.33 L1069.59 901.71 L1071.65 892.56 L1073.72 896.99 L1075.78 898.02 L1077.85 891.38 L1079.91 900.23 L1081.98 891.68 L1084.04 901.41 L1086.11 898.02 L1088.17 897.28 L1090.24 900.53 L1092.3 892.56 L1094.36 898.76 L1096.43 895.07 L1098.49 908.34 L1100.56 895.81 L1102.62 889.17 L1104.69 895.07 L1106.75 902.44 L1108.82 906.13 L1110.88 901.71 L1112.94 893.59 L1115.01 892.86 L1117.07 906.87 L1119.14 895.81 L1121.5 871.47 L1123.56 886.96 L1125.63 906.13 L1127.69 903.18 L1129.76 890.65 L1131.82 890.65 L1133.88 887.7 L1135.95 901.71 L1138.01 898.76 L1140.08 904.65 L1142.14 898.02 L1144.21 895.07 L1146.27 905.83 L1148.34 902.88 L1150.4 901.71 L1152.47 892.86 L1154.53 900.97 L1156.59 904.65 L1158.66 893.15 L1160.72 905.39 L1162.79 906.13 L1164.85 893.3 L1166.92 903.92 L1168.98 900.97 L1171.05 892.86 L1173.11 886.96 L1175.18 900.23 L1177.24 908.34 L1179.3 900.23 L1181.37 891.38 L1183.43 900.97 L1185.79 866.02 L1187.86 900.97 L1189.92 902.44 L1191.99 880.32 L1194.05 865.13 L1196.12 898.76 L1198.18 881.06 L1200.24 878.85 L1202.31 880.76 L1204.37 872.21 L1206.44 882.53 L1208.5 892.56 L1210.57 879.29 L1212.63 872.21 L1214.7 885.48 L1216.76 872.95 L1218.82 887.7 L1220.89 869.56 L1222.95 878.11 L1225.02 886.96 L1227.08 900.97 L1229.15 834.17 L1231.21 867.79 L1233.28 899.49 L1235.34 891.38 L1237.41 853.04 L1239.47 849.8 L1241.53 872.95 L1243.6 882.53 L1245.96 829.15 L1248.02 846.41 L1250.09 853.78 L1252.15 846.41 L1254.22 844.19 L1256.28 842.72 L1258.35 863.07 L1260.41 852.3 L1262.47 860.41 L1264.54 852.75 L1266.6 861.89 L1268.67 851.27 L1270.73 850.83 L1272.8 866.31 L1274.86 858.2 L1276.93 889.91 L1278.99 864.54 L1281.06 878.85 L1283.12 845.67 L1285.18 889.17 L1287.25 884.75 L1289.31 878.11 L1291.38 870.44 L1293.44 882.53 L1295.51 871.47 L1297.57 886.22 L1299.64 891.09 L1301.7 871.03 L1303.76 889.17 L1305.83 884.75 L1307.89 901.71 L1309.96 892.12 L1312.02 894.33 L1314.09 901.71 L1316.15 901.71 L1318.22 877.82 L1320.28 878.85 L1322.35 896.54 L1322.67 896.54 L1324.73 895.51 L1326.8 873.69 L1328.86 852.75 L1330.93 904.65 L1332.99 904.36 L1335.06 857.47 L1337.12 889.17 L1339.18 884.01 L1341.25 835.05 L1343.31 872.21 L1345.38 894.33 L1347.44 898.02 L1349.51 897.28 L1351.57 848.91 L1353.64 904.65 L1355.7 900.97 L1357.76 870 L1359.83 886.22 L1361.89 903.18 L1363.96 889.91 L1366.02 900.97 L1368.09 901.71 L1370.15 898.76 L1372.51 872.21 L1374.58 886.96 L1376.64 902.88 L1378.71 865.13 L1380.77 892.86 L1382.83 893.59 L1384.9 898.02 L1386.96 894.33 L1389.03 880.32 L1391.09 900.97 L1393.16 901.41 L1395.22 893.59 L1397.29 898.76 L1399.35 884.01 L1401.41 894.33 L1403.48 897.28 L1405.54 870 L1407.61 890.65 L1409.67 900.97 L1411.74 892.86 L1413.8 882.83 L1415.87 894.33 L1417.93 892.86 L1420 883.27 L1422.06 860.12 L1424.12 898.46 L1426.19 892.86 L1428.25 867.79 L1430.32 884.75 L1432.38 890.2 L1434.45 886.96 L1436.51 835.64 L1438.58 897.28 L1440.64 876.64 L1442.71 866.61 L1444.77 889.91 L1446.83 881.8 L1448.9 899.49 L1450.96 861.89 L1453.03 882.53 L1455.09 878.11 L1457.16 863.66 L1459.22 881.8 L1461.29 896.1 L1463.35 879.59 L1465.41 864.54 L1467.48 887.7 L1469.54 889.17 L1471.61 891.38 L1473.67 897.28 L1475.74 898.76 L1477.8 889.91 L1480.16 872.21 L1482.23 805.56 L1484.29 881.06 L1486.35 882.53 L1488.42 869.26 L1490.48 878.85 L1492.55 884.75 L1494.61 850.09 L1496.68 904.95 L1498.74 898.02 L1500.81 895.81 L1502.87 855.7 L1504.94 885.48 L1507 892.86 L1509.06 894.04 L1511.13 879.59 L1513.49 870 L1515.55 889.91 L1517.62 897.28 L1519.68 861.15 L1521.75 870.74 L1523.52 905.83 L1525.58 885.48 L1527.65 879.59 L1529.71 891.38 L1531.77 905.39 L1533.84 892.86 L1535.9 884.01 L1537.97 904.65 L1540.03 903.92 L1542.1 876.93 L1544.16 898.76 L1546.23 906.13 L1548.29 878.85 L1550.35 906.87 L1552.42 883.27 L1554.48 878.85 L1556.84 876.64 L1558.91 900.97 L1560.97 898.76 L1563.04 877.37 L1565.1 867.79 L1567.17 875.16 L1569.23 903.18 L1571.29 901.71 L1573.36 878.11 L1575.42 897.28 L1577.49 908.34 L1579.55 907.6 L1581.62 897.58 L1583.68 910.85 L1585.75 909.08 L1587.81 901.71 L1589.88 893.59 L1591.94 898.76 L1594 896.1 L1596.07 891.09 L1598.13 906.87 L1600.2 899.49 L1602.26 894.33 L1604.33 889.61 L1606.39 906.13 L1608.46 891.38 L1610.52 889.91 L1612.88 737.28 L1614.94 849.35 L1617.01 906.13 L1619.07 868.97 L1621.14 899.49 L1623.2 906.87 L1625.27 898.76 L1627.33 864.54 L1629.4 903.92 L1631.46 906.13 L1633.53 891.38 L1635.62 906.13 L1637.68 909.08 L1639.75 906.87 L1642.11 881.8 L1644.17 903.18 L1646.24 872.95 L1648.3 893.59 L1650.36 892.12 L1652.43 906.87 L1654.49 894.33 L1656.56 879.88 L1658.62 905.83 L1660.69 882.53 L1662.75 860.12 L1664.82 897.28 L1666.88 900.97 L1668.94 799.95 L1671.01 885.48 L1673.07 901.71 L1675.14 881.8 L1677.2 863.36 L1679.27 870 L1681.33 855.99 L1683.4 898.02 L1685.46 872.21 L1687.53 896.1 L1689.59 896.1 L1691.65 873.98 L1693.72 885.48 L1695.78 901.41 L1697.85 900.97 L1699.91 878.85 L1701.98 888.43 L1704.04 906.13 L1706.11 871.03 L1708.17 884.01 L1710.24 903.18 L1712.59 860.41 L1714.66 905.39 L1716.72 878.11 L1718.79 895.51 L1720.85 868.53 L1722.92 876.64 L1724.98 882.24 L1727.05 887.7 L1729.11 873.69 L1731.18 875.9 L1733.24 880.32 L1735.3 878.11 L1737.37 880.76 L1739.43 873.69 L1741.5 874.42 L1743.56 883.71 L1745.63 877.82 L1747.69 884.3 L1749.76 868.53 L1751.82 881.8 L1753.88 876.64 L1755.95 884.3 L1758.16 860.41 L1760.23 883.71 L1762.29 881.06 L1764.35 872.21 L1766.42 878.85 L1768.48 876.64 L1770.55 872.95 L1772.61 875.16 L1774.68 877.37 L1776.74 881.8 L1778.81 869.26 L1780.87 874.87 L1782.94 873.69 L1785 872.21 L1787.06 870.44 L1789.13 871.92 L1791.19 872.51 L1793.26 871.47 L1795.32 872.21 L1797.39 868.08 L1799.45 869.26 L1801.52 871.47 L1803.58 872.21 L1805.65 869.26 L1807.71 868.53 L1809.77 870.74 L1811.84 869.26 L1813.9 868.08 L1815.97 865.58 L1818.18 858.94 L1820.24 866.31 L1822.31 871.03 L1824.37 867.49 L1826.44 866.31 L1828.5 865.58 L1830.57 864.84 L1832.63 861.89 L1834.99 844.19 L1837.06 863.36 L1839.12 866.61 L1841.18 867.49 L1843.25 867.49 L1845.31 863.36 L1847.38 859.68 L1849.44 863.07 L1851.51 861.89 L1853.57 858.65 L1855.64 855.99 L1857.7 854.22 L1859.76 849.35 L1861.83 851.86 L1863.89 854.52 L1865.96 845.37 L1868.02 855.99 L1870.09 840.95 L1872.15 849.8 L1874.22 852.3 L1876.28 881.06 L1878.35 881.8 L1880.41 873.69 L1882.47 870.74 L1884.54 882.53 L1886.6 886.22 L1888.67 883.27 L1890.73 893.59 L1892.8 902.44 L1894.86 878.85 L1897.22 901.71 L1899.29 867.79 L1901.35 869.26 L1903.41 874.42 L1905.48 852.75 L1907.54 851.86 L1909.61 842.72 L1911.67 852.75 L1913.74 853.04 L1915.8 853.04 L1917.87 858.94 L1919.93 852.3 L1922.26 854.52 L1924.32 855.99 L1926.39 858.2 L1928.45 856.29 L1930.52 863.66 L1932.58 864.84 L1934.65 858.94 L1936.71 856.29 L1938.77 865.58 L1940.84 863.66 L1942.9 865.58 L1944.97 863.66 L1947.03 864.1 L1949.1 871.03 L1951.16 868.53 L1953.23 868.97 L1955.29 871.47 L1957.35 871.92 L1959.42 871.47 L1961.48 868.97 L1963.55 875.16 L1965.61 876.34 L1967.68 874.42 L1969.74 873.69 L1971.81 873.39 L1973.87 877.37 L1975.94 877.37 L1978 871.92 L1980.06 875.16 L1982.13 874.42 L1984.19 875.9 L1986.26 878.85 L1988.32 885.48 L1990.39 879.59 L1992.45 878.85 L1994.52 881.8 L1996.58 875.9 L1998.65 881.8 L2000.71 879.59 L2002.77 879.29 L2004.84 881.06 L2006.9 881.35 L2008.97 884.01 L2011.33 878.11 L2013.39 881.06 L2015.46 886.96 L2017.52 891.68 L2019.59 875.16 L2021.65 884.01 L2023.71 886.66 L2025.78 879.59 L2027.84 892.12 L2029.91 884.75 L2031.97 891.38 L2034.04 884.75 L2036.1 894.63 L2038.17 879.59 L2040.23 884.01 L2042.29 888.43 L2044.36 892.86 L2046.42 896.1 L2048.49 885.48 L2050.55 892.12 L2052.62 898.02 L2054.68 886.96 L2056.75 890.65 L2058.81 897.58 L2061.17 884.75 L2063.24 894.33 L2065.3 889.91 L2067.36 898.76 L2069.43 898.76 L2071.49 902 L2073.56 894.33 L2075.62 899.49 L2077.69 899.49 L2079.75 868.97 L2081.82 900.97 L2083.88 902.88 L2085.94 904.95 L2088.01 897.28 L2090.07 902 L2092.14 902.88 L2094.2 894.33 L2095.53 893.59" fill="none" stroke="#000" stroke-width="3.0" stroke-linejoin="round" stroke-linecap="butt"/></g>
<path d="M139.4 914.8v-6.4M139.4 718v6.4M226.08 914.8v-6.4M226.08 718v6.4M313.08 914.8v-6.4M313.08 718v6.4M399.45 914.8v-6.4M399.45 718v6.4M485.81 914.8v-6.4M485.81 718v6.4M572.81 914.8v-6.4M572.81 718v6.4M659.81 914.8v-6.4M659.81 718v6.4M746.17 914.8v-6.4M746.17 718v6.4M832.54 914.8v-6.4M832.54 718v6.4M919.22 914.8v-6.4M919.22 718v6.4M1006.22 914.8v-6.4M1006.22 718v6.4M1092.9 914.8v-6.4M1092.9 718v6.4M1179.27 914.8v-6.4M1179.27 718v6.4M1265.95 914.8v-6.4M1265.95 718v6.4M1352.95 914.8v-6.4M1352.95 718v6.4M1439.31 914.8v-6.4M1439.31 718v6.4M1525.99 914.8v-6.4M1525.99 718v6.4M1612.67 914.8v-6.4M1612.67 718v6.4M1699.67 914.8v-6.4M1699.67 718v6.4M1786.04 914.8v-6.4M1786.04 718v6.4M1872.4 914.8v-6.4M1872.4 718v6.4M1959.4 914.8v-6.4M1959.4 718v6.4M2046.4 914.8v-6.4M2046.4 718v6.4M82.4 914.8h5.6M2103.4 914.8h-5.6M82.4 892.93h5.6M2103.4 892.93h-5.6M82.4 871.07h5.6M2103.4 871.07h-5.6M82.4 849.2h5.6M2103.4 849.2h-5.6M82.4 827.33h5.6M2103.4 827.33h-5.6M82.4 805.47h5.6M2103.4 805.47h-5.6M82.4 783.6h5.6M2103.4 783.6h-5.6M82.4 761.73h5.6M2103.4 761.73h-5.6M82.4 739.87h5.6M2103.4 739.87h-5.6M82.4 718h5.6M2103.4 718h-5.6" stroke="#000" stroke-width="1.0" fill="none"/>
<rect x="82.4" y="718" width="2021" height="196.8" fill="none" stroke="#000" stroke-width="1.5"/>
<g stroke="#000" stroke-width="0.4"><text x="76.4" y="921" text-anchor="end">0.0</text>
<text x="76.4" y="899.13" text-anchor="end">0.5</text>
<text x="76.4" y="877.27" text-anchor="end">1.0</text>
<text x="76.4" y="855.4" text-anchor="end">1.5</text>
<text x="76.4" y="833.53" text-anchor="end">2.0</text>
<text x="76.4" y="811.67" text-anchor="end">2.5</text>
<text x="76.4" y="789.8" text-anchor="end">3.0</text>
<text x="76.4" y="767.93" text-anchor="end">3.5</text>
<text x="76.4" y="746.07" text-anchor="end">4.0</text>
<text x="76.4" y="724.2" text-anchor="end">4.5</text></g>
<text transform="translate(37.05 817.30) scale(0.9 1) rotate(-90)" font-family="'DejaVu Sans','Liberation Sans',sans-serif" font-size="19.44" text-anchor="middle" fill="#000" stroke="#000" stroke-width="0.4">T <tspan font-family="'Liberation Serif','DejaVu Serif',serif" font-size="19" stroke-width="0.2">[10<tspan font-size="13" dy="-7.5">5</tspan><tspan dy="7.5" font-style="italic"> K</tspan>]</tspan></text>
</g>
<g id="panel4">

<g clip-path="url(#c4)"><path d="M82.37 1081.67 L84.14 974.02 L86.21 1049.96 L88.57 1042.59 L90.63 1069.87 L92.7 1048.19 L94.76 1081.67 L96.82 1071.35 L98.89 1062.79 L100.95 1084.62 L103.02 1066.18 L105.08 1106 L107.15 1109.98 L109.21 1091.25 L111.28 1100.1 L113.34 1094.94 L115.41 1083.88 L117.47 1087.57 L119.53 1055.86 L121.6 1084.32 L123.66 1021.94 L125.88 1117.06 L128.09 1111.9 L130.15 1114.11 L132.22 1117.8 L134.28 1091.25 L136.35 1112.64 L138.41 1102.31 L140.47 1089.78 L142.54 1097.89 L144.6 1084.32 L146.67 1115.59 L148.73 1103.79 L150.8 1131.51 L152.86 1076.51 L154.93 1139.47 L156.99 1074.29 L159.06 1040.08 L161.12 1136.23 L163.18 1094.2 L165.25 1134.02 L167.31 1040.08 L169.38 1116.32 L171.44 1121.48 L173.51 1113.37 L175.57 1122.96 L177.64 1120.75 L179.7 1139.18 L181.76 1120.01 L183.83 1104.97 L185.89 1124.43 L187.96 1136.53 L190.02 1095.68 L192.24 1118.53 L194.45 1141.39 L196.51 1143.31 L198.58 1106 L200.64 1130.33 L202.71 1122.96 L204.77 1134.02 L206.83 1097.15 L208.9 1130.33 L210.96 1124.43 L213.03 1116.32 L215.09 1115.88 L217.16 1122.96 L219.22 1128.12 L221.29 1108.21 L223.35 1139.47 L225.41 1126.65 L227.48 1122.22 L229.54 1139.92 L231.61 1139.92 L233.67 1116.32 L235.74 1132.54 L237.8 1121.48 L239.87 1131.07 L241.93 1121.19 L244 1122.22 L246.06 1131.07 L248.12 1123.7 L250.19 1141.39 L252.25 1125.17 L254.32 1131.51 L256.38 1138.44 L258.45 1134.02 L260.51 1142.87 L262.58 1141.39 L264.64 1115.29 L266.71 1120.75 L268.77 1142.87 L270.83 1126.65 L272.9 1122.22 L274.96 1126.65 L277.03 1141.39 L279.09 1131.07 L281.16 1121.19 L283.22 1139.18 L285.29 1144.34 L287.35 1139.92 L289.56 1116.76 L291.63 1129.59 L293.69 1135.49 L295.76 1130.33 L297.82 1129.59 L299.88 1137.71 L301.95 1134.02 L304.01 1127.38 L306.08 1132.54 L308.14 1138.44 L310.21 1136.23 L312.42 1116.76 L314.48 1137.71 L316.55 1142.13 L318.61 1128.86 L320.68 1126.2 L322.74 1139.18 L324.81 1142.13 L326.87 1128.86 L328.94 1125.17 L331 1140.65 L333.06 1146.26 L335.42 1121.48 L337.49 1133.28 L339.55 1141.39 L341.62 1138.44 L343.68 1130.04 L345.75 1134.76 L347.81 1140.65 L349.88 1136.23 L351.94 1130.33 L354 1133.28 L356.07 1136.23 L358.13 1141.83 L360.2 1125.17 L362.26 1139.92 L364.33 1134.76 L366.39 1114.41 L368.46 1135.49 L370.52 1137.71 L372.59 1142.87 L374.65 1137.71 L376.71 1138.44 L378.78 1137.71 L380.84 1131.51 L382.91 1139.47 L384.97 1137.71 L387.04 1135.49 L389.1 1133.58 L391.17 1137.41 L393.23 1136.97 L395.32 1137.71 L397.39 1138.88 L399.45 1138.44 L401.52 1137.41 L403.58 1134.46 L405.65 1138.88 L407.71 1137.71 L409.77 1136.53 L411.84 1135.05 L413.9 1133.58 L415.97 1136.23 L418.03 1135.49 L420.1 1133.58 L422.16 1136.53 L424.23 1131.07 L426.29 1125.17 L428.35 1135.49 L430.42 1134.76 L432.48 1131.81 L434.55 1128.12 L436.61 1132.54 L438.68 1135.49 L440.74 1130.63 L442.81 1130.33 L444.87 1133.28 L446.94 1130.04 L449 1132.1 L451.06 1132.54 L453.13 1132.54 L455.19 1131.51 L457.26 1129.59 L459.32 1130.33 L461.39 1131.81 L463.45 1130.33 L465.52 1129.59 L467.58 1128.86 L469.65 1129.59 L471.71 1128.56 L473.77 1127.68 L475.84 1127.38 L477.9 1126.65 L479.97 1125.61 L482.03 1126.2 L484.1 1124.73 L486.16 1122.96 L488.23 1124.14 L490.29 1122.22 L492.35 1121.19 L494.42 1120.01 L496.48 1117.8 L498.55 1115.88 L500.61 1114.85 L502.68 1112.34 L504.74 1114.11 L506.81 1112.64 L508.87 1110.42 L510.94 1107.92 L513 1106 L515.06 1104.53 L517.13 1100.84 L519.49 1097.15 L521.55 1107.47 L523.62 1096.41 L525.68 1088.3 L527.75 1075.03 L529.81 1086.09 L532.17 1073.12 L534.24 1084.32 L536.3 1071.35 L538.36 1044.06 L540.43 1062.5 L542.49 1080.19 L544.85 1059.25 L546.92 1079.46 L548.98 1066.18 L551.05 1083.44 L553.11 1083.88 L555.18 1085.35 L557.24 1081.37 L559.3 1090.52 L561.37 1096.12 L563.43 1099.36 L565.5 1097.89 L567.56 1101.58 L569.63 1104.53 L571.69 1106.74 L573.76 1109.39 L575.82 1109.69 L577.88 1111.9 L579.95 1114.11 L582.01 1115.88 L584.08 1117.35 L586.14 1118.83 L588.21 1120.3 L590.27 1122.22 L592.34 1121.48 L594.4 1122.66 L596.47 1123.25 L598.53 1124.43 L600.59 1125.61 L602.66 1125.91 L604.72 1126.2 L606.79 1125.91 L608.85 1127.09 L610.92 1127.68 L612.98 1128.86 L615.05 1130.33 L617.11 1130.33 L619.18 1131.51 L621.24 1131.07 L623.3 1130.63 L625.37 1132.1 L627.43 1133.58 L629.79 1127.38 L631.86 1135.49 L633.92 1134.02 L635.99 1134.02 L638.05 1134.02 L640.12 1134.46 L642.18 1134.02 L644.24 1134.76 L646.31 1134.76 L648.37 1135.49 L650.44 1135.49 L652.5 1136.23 L654.57 1136.23 L656.63 1136.23 L658.7 1138 L660.76 1136.53 L662.82 1135.49 L664.89 1136.53 L666.95 1138.44 L669.02 1136.53 L671.08 1136.97 L673.15 1136.53 L675.21 1137.71 L677.28 1138.44 L679.34 1137.71 L681.41 1139.18 L683.47 1138 L685.53 1137.71 L687.6 1136.23 L689.66 1137.71 L691.73 1138.44 L693.79 1137.41 L695.86 1135.49 L697.92 1139.47 L699.99 1138.88 L702.05 1137.71 L703.82 1126.65 L704.73 1127.09 L706.8 1138.44 L708.86 1139.18 L710.93 1146.26 L712.99 1122.22 L715.06 1138.88 L717.12 1130.33 L719.18 1127.68 L721.25 1139.18 L723.31 1139.92 L725.38 1142.87 L727.44 1130.04 L729.51 1140.65 L731.57 1139.18 L733.64 1136.23 L735.7 1131.81 L737.76 1137.71 L739.83 1135.49 L741.89 1125.61 L743.96 1131.81 L746.02 1140.36 L748.09 1142.13 L750.15 1131.07 L752.22 1133.28 L754.28 1134.76 L756.35 1145.82 L758.41 1134.76 L760.47 1136.53 L762.54 1132.54 L764.6 1124.88 L766.67 1134.02 L768.73 1142.42 L770.8 1134.76 L772.86 1129.59 L774.93 1137.71 L776.99 1138.44 L779.06 1145.82 L781.12 1130.33 L783.18 1134.46 L785.25 1139.92 L787.31 1141.83 L789.38 1134.02 L791.44 1138.44 L793.51 1139.47 L795.57 1139.92 L797.64 1136.23 L799.7 1126.2 L801.76 1142.42 L803.83 1131.51 L805.89 1132.54 L807.96 1134.02 L810.02 1138.88 L812.09 1139.92 L814.15 1136.53 L816.22 1138.88 L818.28 1136.23 L820.35 1130.63 L822.41 1140.95 L824.47 1131.07 L826.54 1128.86 L828.9 1116.32 L830.96 1137.41 L833.03 1130.04 L835.09 1139.18 L837.16 1130.33 L839.22 1141.39 L841.29 1123.4 L843.35 1141.39 L845.41 1139.18 L847.48 1131.51 L849.54 1131.81 L851.61 1138.44 L853.67 1141.83 L855.74 1142.13 L857.8 1136.97 L859.87 1134.46 L861.93 1140.65 L864 1136.23 L866.06 1134.02 L868.12 1129.59 L870.19 1137.41 L872.25 1109.69 L874.32 1122.22 L876.38 1134.46 L878.45 1134.46 L880.51 1128.12 L882.58 1136.97 L884.64 1129.59 L887 1108.65 L889.06 1145.37 L891.13 1130.33 L893.19 1134.76 L895.26 1132.54 L897.32 1124.73 L899.39 1119.27 L901.45 1133.28 L903.52 1125.91 L905.58 1141.83 L907.65 1134.76 L909.71 1134.02 L911.77 1129.59 L913.84 1115.59 L915.9 1136.97 L917.97 1133.28 L920.03 1129.59 L922.1 1140.65 L924.16 1124.43 L926.23 1133.28 L928.29 1135.05 L930.35 1134.02 L932.42 1118.53 L934.48 1134.76 L936.55 1138.44 L938.61 1129.59 L940.68 1128.56 L942.74 1139.18 L944.81 1118.83 L946.87 1124.73 L948.94 1126.65 L951 1132.54 L953.06 1136.97 L955.13 1120.01 L957.19 1146.85 L959.26 1133.28 L961.32 1129.59 L963.39 1124.43 L965.45 1136.23 L967.52 1134.76 L969.58 1137.71 L971.65 1122.96 L974 1109.98 L976.07 1144.78 L978.13 1121.78 L980.2 1144.34 L982.26 1136.23 L984.33 1127.09 L986.39 1121.78 L988.46 1148.32 L990.52 1137.71 L992.59 1119.27 L994.65 1129.59 L996.71 1132.99 L998.78 1128.86 L1000.84 1135.49 L1002.91 1134.02 L1004.97 1131.81 L1007.04 1137.71 L1009.4 1116.32 L1011.46 1136.23 L1013.53 1144.34 L1015.62 1132.99 L1017.68 1142.13 L1019.75 1122.96 L1021.81 1139.47 L1023.88 1125.17 L1025.94 1124.43 L1028 1130.33 L1030.07 1134.76 L1032.13 1129.59 L1034.2 1135.49 L1036.26 1130.33 L1038.62 1124.73 L1040.69 1133.28 L1042.75 1132.54 L1044.82 1120.75 L1046.88 1117.8 L1048.94 1131.81 L1051.01 1127.09 L1053.07 1135.94 L1055.14 1133.28 L1057.2 1128.86 L1059.27 1128.12 L1061.33 1122.66 L1063.4 1143.6 L1065.46 1133.28 L1067.53 1131.51 L1069.59 1137.41 L1071.65 1121.48 L1073.72 1130.33 L1075.78 1124.43 L1077.85 1125.61 L1079.91 1126.65 L1081.98 1135.05 L1084.04 1130.33 L1086.11 1129.59 L1088.17 1123.7 L1090.24 1134.76 L1092.3 1088.3 L1094.36 1131.07 L1096.43 1120.75 L1098.49 1129.59 L1100.56 1122.96 L1102.62 1122.66 L1104.69 1128.86 L1106.75 1136.23 L1108.82 1126.65 L1110.88 1120.3 L1113.24 1114.11 L1115.3 1133.28 L1117.37 1138 L1119.43 1124.43 L1121.5 1103.05 L1123.56 1138 L1125.63 1112.64 L1127.69 1129.59 L1129.76 1112.64 L1131.82 1114.85 L1133.88 1128.86 L1135.95 1118.53 L1138.01 1120.75 L1140.08 1131.81 L1142.14 1116.76 L1144.21 1120.75 L1146.27 1123.7 L1148.34 1124.14 L1150.4 1120.75 L1152.47 1097.59 L1154.53 1121.19 L1156.59 1120.3 L1158.66 1104.97 L1160.72 1124.43 L1162.79 1120.01 L1164.85 1104.08 L1166.92 1109.69 L1168.98 1114.11 L1171.05 1096.41 L1173.11 1120.01 L1175.18 1111.16 L1177.24 1103.79 L1179.6 1100.1 L1181.66 1102.31 L1183.73 1108.21 L1185.79 1091.25 L1187.86 1120.01 L1189.92 1097.89 L1191.99 1076.95 L1194.05 1094.94 L1196.12 1082.41 L1198.18 1077.98 L1200.24 1066.18 L1202.31 1071.35 L1204.37 1034.48 L1206.44 1063.24 L1208.5 1041.85 L1210.57 1039.2 L1212.63 1042.59 L1214.7 1059.55 L1216.76 1064.71 L1219.12 1034.48 L1221.18 1046.28 L1223.25 1081.37 L1225.31 1062.5 L1227.38 1067.66 L1229.44 1081.67 L1231.51 1096.71 L1233.57 1076.51 L1235.64 1078.72 L1237.7 1079.46 L1239.76 1107.92 L1241.83 1085.35 L1243.89 1108.95 L1245.96 1100.1 L1248.02 1113.37 L1250.09 1114.11 L1252.15 1108.21 L1254.22 1110.42 L1256.28 1114.11 L1258.35 1118.53 L1260.41 1117.06 L1262.47 1116.32 L1264.54 1113.37 L1266.6 1115.59 L1268.67 1118.53 L1270.73 1112.64 L1272.8 1120.75 L1274.86 1111.16 L1276.93 1129.15 L1278.99 1106.44 L1281.06 1104.53 L1283.12 1120.01 L1285.18 1121.48 L1287.25 1120.75 L1289.31 1100.84 L1291.38 1132.99 L1293.44 1115.59 L1295.51 1122.22 L1297.57 1128.86 L1299.64 1136.23 L1301.7 1111.16 L1303.76 1134.02 L1305.83 1115.59 L1307.89 1133.28 L1309.96 1117.06 L1312.02 1141.39 L1314.09 1114.11 L1316.15 1134.02 L1318.22 1112.34 L1320.28 1128.86 L1322.35 1139.18 L1322.67 1139.92 L1324.73 1133.28 L1326.8 1111.16 L1328.86 1125.17 L1330.93 1121.48 L1332.99 1141.83 L1335.06 1114.41 L1337.12 1134.02 L1339.18 1121.48 L1341.25 1099.66 L1343.31 1125.91 L1345.38 1141.83 L1347.44 1125.91 L1349.51 1121.48 L1351.57 1118.53 L1353.64 1138.88 L1355.7 1125.17 L1357.76 1104.08 L1359.83 1137.71 L1361.89 1121.48 L1363.96 1117.06 L1366.02 1134.76 L1368.09 1116.76 L1370.15 1119.27 L1372.51 1091.99 L1374.58 1117.06 L1376.64 1134.46 L1378.71 1114.85 L1380.77 1131.81 L1382.83 1114.85 L1384.9 1119.27 L1386.96 1126.65 L1389.03 1130.33 L1391.09 1136.53 L1393.16 1127.38 L1395.22 1120.75 L1397.29 1131.81 L1399.35 1111.16 L1401.41 1121.48 L1403.48 1128.12 L1405.54 1111.46 L1407.61 1138.88 L1409.67 1136.97 L1411.74 1125.91 L1413.8 1123.7 L1415.87 1131.81 L1417.93 1135.49 L1420 1136.97 L1422.06 1122.22 L1424.12 1132.99 L1426.19 1127.38 L1428.25 1114.85 L1430.32 1137.71 L1432.38 1128.86 L1434.45 1120.01 L1436.51 1113.67 L1438.58 1132.54 L1440.64 1126.65 L1442.71 1124.43 L1444.77 1140.36 L1446.83 1125.61 L1448.9 1140.95 L1450.96 1122.22 L1453.03 1133.28 L1455.09 1131.07 L1457.16 1121.19 L1459.22 1140.65 L1461.29 1126.65 L1463.35 1125.91 L1465.41 1123.25 L1467.48 1131.07 L1469.54 1125.17 L1471.61 1127.38 L1473.67 1139.47 L1475.74 1136.23 L1477.8 1125.17 L1480.16 1114.11 L1482.23 1102.02 L1484.29 1136.97 L1486.35 1120.75 L1488.42 1132.54 L1490.48 1114.11 L1492.55 1111.46 L1494.61 1118.53 L1496.68 1146.55 L1498.74 1130.33 L1500.81 1139.92 L1502.87 1102.61 L1504.94 1130.04 L1507 1139.47 L1509.06 1129.59 L1511.13 1126.65 L1513.19 1128.86 L1515.26 1144.34 L1517.32 1130.04 L1519.39 1122.22 L1521.45 1134.76 L1523.52 1141.39 L1525.58 1125.17 L1527.65 1140.65 L1529.71 1138.44 L1531.77 1141.39 L1533.84 1125.91 L1535.9 1125.61 L1537.97 1143.6 L1540.03 1134.02 L1542.1 1127.38 L1544.16 1130.33 L1546.23 1144.34 L1548.29 1126.65 L1550.35 1146.26 L1552.42 1128.86 L1554.48 1123.4 L1556.55 1135.49 L1558.61 1142.87 L1560.68 1133.28 L1562.74 1125.61 L1564.81 1131.51 L1567.17 1113.82 L1569.23 1146.26 L1571.29 1136.23 L1573.36 1112.93 L1575.42 1144.34 L1577.49 1145.82 L1579.55 1134.02 L1581.62 1126.2 L1583.68 1141.39 L1585.75 1139.18 L1587.81 1130.33 L1589.88 1122.96 L1591.94 1136.97 L1594 1124.43 L1596.07 1134.02 L1598.13 1142.87 L1600.2 1131.07 L1602.26 1125.17 L1604.33 1127.38 L1606.39 1137.71 L1608.46 1130.33 L1610.52 1128.86 L1612.59 1119.71 L1614.65 1133.28 L1616.71 1145.37 L1619.07 1117.06 L1621.14 1140.95 L1623.2 1142.87 L1625.27 1120.01 L1627.33 1125.17 L1629.4 1141.39 L1631.46 1133.28 L1633.23 1111.16 L1633.85 1111.16 L1635.91 1146.55 L1637.98 1139.18 L1640.04 1130.33 L1642.11 1126.65 L1644.17 1142.87 L1646.24 1117.8 L1648.3 1126.65 L1650.36 1140.65 L1652.43 1142.87 L1654.49 1126.65 L1656.56 1121.48 L1658.62 1145.82 L1660.69 1128.86 L1662.75 1118.53 L1664.82 1145.08 L1666.88 1144.34 L1668.94 1106.44 L1671.01 1131.81 L1673.07 1142.87 L1675.14 1130.33 L1677.2 1128.12 L1679.27 1139.92 L1681.33 1128.86 L1683.4 1142.87 L1685.46 1132.54 L1687.53 1145.82 L1689.59 1128.86 L1691.95 1116.76 L1694.01 1136.23 L1696.08 1144.34 L1698.14 1129.59 L1700.21 1125.17 L1702.27 1143.6 L1704.34 1133.28 L1706.4 1127.09 L1708.47 1137.71 L1710.53 1142.13 L1712.59 1114.41 L1714.66 1146.26 L1716.72 1142.13 L1718.79 1145.08 L1720.85 1127.38 L1722.92 1139.18 L1724.98 1141.83 L1727.05 1141.39 L1729.11 1137.41 L1731.18 1140.36 L1733.24 1141.83 L1735.3 1138 L1737.37 1139.47 L1739.43 1138.44 L1741.5 1139.18 L1743.56 1140.65 L1745.63 1136.23 L1747.69 1139.47 L1749.76 1135.94 L1751.82 1140.95 L1753.88 1136.23 L1755.95 1140.65 L1758.16 1135.05 L1760.23 1139.92 L1762.29 1138.44 L1764.35 1137.41 L1766.42 1139.47 L1768.48 1137.41 L1770.55 1135.94 L1772.61 1138.44 L1774.68 1137.71 L1776.74 1137.71 L1778.81 1134.76 L1780.87 1138.44 L1782.94 1136.97 L1785 1135.49 L1787.06 1136.23 L1789.13 1137.71 L1791.19 1136.53 L1793.26 1136.23 L1795.32 1135.94 L1797.39 1135.49 L1799.45 1135.05 L1801.52 1134.76 L1803.58 1136.23 L1805.65 1134.46 L1807.71 1134.02 L1809.77 1134.46 L1811.84 1134.02 L1813.9 1132.99 L1815.97 1131.81 L1818.18 1130.63 L1820.24 1132.1 L1822.31 1131.07 L1824.37 1129.59 L1826.44 1131.07 L1828.5 1130.33 L1830.57 1130.63 L1832.63 1128.86 L1834.7 1132.54 L1836.76 1126.65 L1838.82 1128.56 L1840.89 1128.12 L1842.95 1126.65 L1845.02 1125.17 L1847.08 1124.43 L1849.15 1123.7 L1851.21 1122.96 L1853.28 1120.75 L1855.34 1121.48 L1857.41 1120.01 L1859.47 1118.53 L1861.53 1116.76 L1863.6 1114.85 L1865.66 1111.16 L1867.73 1112.64 L1869.79 1103.05 L1871.86 1111.9 L1873.92 1102.61 L1876.28 1107.47 L1878.35 1069.58 L1880.41 1093.47 L1882.47 1092.73 L1884.54 1105.56 L1886.6 1083.14 L1888.67 1091.99 L1890.73 1101.13 L1892.8 1093.47 L1894.86 1086.09 L1896.93 1089.78 L1898.99 1088.3 L1901.06 1100.1 L1903.12 1105.26 L1905.18 1101.58 L1907.25 1105.26 L1909.31 1109.69 L1911.38 1111.16 L1913.44 1114.11 L1915.51 1115.59 L1917.57 1117.06 L1919.64 1116.32 L1920.05 1117.06 L1922.26 1119.71 L1924.32 1121.48 L1926.39 1122.66 L1928.45 1124.14 L1930.52 1125.61 L1932.58 1126.65 L1934.65 1124.14 L1936.71 1125.91 L1938.77 1127.09 L1940.84 1127.68 L1942.9 1129.15 L1944.97 1130.33 L1947.03 1129.59 L1949.1 1130.63 L1951.16 1131.51 L1953.23 1132.1 L1955.29 1132.54 L1957.35 1133.28 L1959.42 1131.07 L1961.48 1134.76 L1963.55 1134.76 L1965.61 1134.76 L1967.68 1134.46 L1969.74 1135.49 L1971.81 1135.94 L1973.87 1136.53 L1975.94 1136.23 L1978 1136.97 L1980.06 1137.71 L1982.13 1136.23 L1984.19 1135.49 L1986.26 1137.41 L1988.32 1136.23 L1990.39 1137.71 L1992.45 1136.53 L1994.52 1136.97 L1996.58 1137.41 L1998.65 1137.71 L2000.71 1137.71 L2002.77 1138 L2004.84 1138 L2006.9 1138.44 L2008.97 1140.95 L2011.33 1139.92 L2013.39 1138.88 L2015.46 1138.44 L2017.52 1142.87 L2019.59 1134.02 L2021.65 1140.36 L2023.71 1138.44 L2025.78 1136.97 L2027.84 1138.44 L2029.91 1135.94 L2031.97 1138.88 L2034.04 1137.41 L2036.1 1142.87 L2038.17 1135.05 L2040.23 1136.97 L2042.29 1139.18 L2044.36 1140.65 L2046.42 1141.83 L2048.49 1139.92 L2050.55 1140.65 L2052.62 1140.95 L2054.68 1136.23 L2056.75 1140.65 L2058.81 1139.18 L2060.88 1134.76 L2062.94 1141.39 L2065 1141.39 L2067.07 1140.95 L2069.13 1137.41 L2071.2 1143.31 L2073.26 1141.39 L2075.33 1141.39 L2077.39 1136.23 L2079.46 1133.58 L2081.52 1142.87 L2083.59 1141.39 L2085.94 1132.1 L2088.01 1134.76 L2090.07 1143.31 L2092.14 1132.99 L2094.2 1139.18 L2095.53 1139.18" fill="none" stroke="#000" stroke-width="3.0" stroke-linejoin="round" stroke-linecap="butt"/></g>
<path d="M139.4 1151.1v-6.4M139.4 954.3v6.4M226.08 1151.1v-6.4M226.08 954.3v6.4M313.08 1151.1v-6.4M313.08 954.3v6.4M399.45 1151.1v-6.4M399.45 954.3v6.4M485.81 1151.1v-6.4M485.81 954.3v6.4M572.81 1151.1v-6.4M572.81 954.3v6.4M659.81 1151.1v-6.4M659.81 954.3v6.4M746.17 1151.1v-6.4M746.17 954.3v6.4M832.54 1151.1v-6.4M832.54 954.3v6.4M919.22 1151.1v-6.4M919.22 954.3v6.4M1006.22 1151.1v-6.4M1006.22 954.3v6.4M1092.9 1151.1v-6.4M1092.9 954.3v6.4M1179.27 1151.1v-6.4M1179.27 954.3v6.4M1265.95 1151.1v-6.4M1265.95 954.3v6.4M1352.95 1151.1v-6.4M1352.95 954.3v6.4M1439.31 1151.1v-6.4M1439.31 954.3v6.4M1525.99 1151.1v-6.4M1525.99 954.3v6.4M1612.67 1151.1v-6.4M1612.67 954.3v6.4M1699.67 1151.1v-6.4M1699.67 954.3v6.4M1786.04 1151.1v-6.4M1786.04 954.3v6.4M1872.4 1151.1v-6.4M1872.4 954.3v6.4M1959.4 1151.1v-6.4M1959.4 954.3v6.4M2046.4 1151.1v-6.4M2046.4 954.3v6.4M82.4 1151.1h5.6M2103.4 1151.1h-5.6M82.4 1129.23h5.6M2103.4 1129.23h-5.6M82.4 1107.37h5.6M2103.4 1107.37h-5.6M82.4 1085.5h5.6M2103.4 1085.5h-5.6M82.4 1063.63h5.6M2103.4 1063.63h-5.6M82.4 1041.77h5.6M2103.4 1041.77h-5.6M82.4 1019.9h5.6M2103.4 1019.9h-5.6M82.4 998.03h5.6M2103.4 998.03h-5.6M82.4 976.17h5.6M2103.4 976.17h-5.6M82.4 954.3h5.6M2103.4 954.3h-5.6" stroke="#000" stroke-width="1.0" fill="none"/>
<rect x="82.4" y="954.3" width="2021" height="196.8" fill="none" stroke="#000" stroke-width="1.5"/>
<g stroke="#000" stroke-width="0.4"><text x="76.4" y="1157.3" text-anchor="end">0</text>
<text x="76.4" y="1135.43" text-anchor="end">1</text>
<text x="76.4" y="1113.57" text-anchor="end">2</text>
<text x="76.4" y="1091.7" text-anchor="end">3</text>
<text x="76.4" y="1069.83" text-anchor="end">4</text>
<text x="76.4" y="1047.97" text-anchor="end">5</text>
<text x="76.4" y="1026.1" text-anchor="end">6</text>
<text x="76.4" y="1004.23" text-anchor="end">7</text>
<text x="76.4" y="982.37" text-anchor="end">8</text>
<text x="76.4" y="960.5" text-anchor="end">9</text></g>
<text transform="translate(35.20 1049.80) scale(0.9 1) rotate(-90)" font-family="'DejaVu Sans','Liberation Sans',sans-serif" font-size="19.44" text-anchor="middle" fill="#000" stroke="#000" stroke-width="0.4">B</text><text transform="translate(54.65 1052.40) scale(0.9 1) rotate(-90)" font-family="'DejaVu Sans','Liberation Sans',sans-serif" font-size="19.44" text-anchor="middle" fill="#000" stroke="#000" stroke-width="0.4">[nT]</text>
</g>
<g id="bands"><rect x="499.3" y="9.1" width="78.3" height="1378.3" fill="#ff0000" fill-opacity="0.2" stroke="#808080" stroke-opacity="0.4" stroke-width="1.2"/>
<rect x="1178" y="9.1" width="78" height="1378.3" fill="#ff0000" fill-opacity="0.2" stroke="#808080" stroke-opacity="0.4" stroke-width="1.2"/>
<rect x="1842" y="9.1" width="79" height="1378.3" fill="#ff0000" fill-opacity="0.2" stroke="#808080" stroke-opacity="0.4" stroke-width="1.2"/></g>
<g id="panel5">
<text transform="translate(413.91 1256.40) scale(0.9942 1)" font-family="'DejaVu Sans Condensed','DejaVu Sans','Liberation Sans',sans-serif" font-size="38.9" fill="#0000ff" stroke="#0000ff" stroke-width="0.6">Solar Min: A</text><text transform="translate(1091.90 1226.30) scale(1.0005 1)" font-family="'DejaVu Sans Condensed','DejaVu Sans','Liberation Sans',sans-serif" font-size="38.9" fill="#0000ff" stroke="#0000ff" stroke-width="0.6">Solar Max: B</text><text transform="translate(1790.38 1256.40) scale(1.0109 1)" font-family="'DejaVu Sans Condensed','DejaVu Sans','Liberation Sans',sans-serif" font-size="41.67" fill="#0000ff" stroke="#0000ff" stroke-width="0.6">Solar Min: C</text>
<g clip-path="url(#c5)"><path d="M82.37 1302.92 L84.14 1255.73 L85.62 1326.52 L87.39 1345.69 L88.57 1295.55 L89.75 1314.72 L91.52 1233.91 L93.29 1286.7 L94.76 1267.53 L95.94 1302.92 L97.41 1321.35 L98.59 1291.12 L100.07 1259.42 L101.25 1311.77 L102.43 1339.79 L103.9 1299.97 L105.08 1295.25 L106.26 1342.74 L107.74 1340.53 L108.92 1311.77 L110.1 1307.35 L111.28 1332.41 L112.46 1350.11 L113.64 1353.8 L115.11 1344.21 L116.29 1302.92 L117.47 1271.22 L118.94 1314.72 L120.12 1335.36 L121.6 1329.47 L122.78 1345.69 L124.25 1332.41 L125.43 1362.65 L126.91 1316.19 L128.38 1344.21 L129.86 1368.99 L131.04 1329.47 L132.51 1345.69 L133.69 1317.37 L135.17 1348.64 L136.64 1332.41 L138.41 1366.33 L139.88 1335.36 L141.06 1344.21 L142.54 1294.07 L144.31 1287.88 L145.78 1329.47 L147.26 1366.33 L148.73 1357.48 L150.21 1319.88 L151.68 1315.46 L153.16 1353.06 L154.63 1324.3 L156.11 1358.96 L157.29 1377.39 L158.76 1354.53 L160.24 1365.59 L161.41 1358.22 L163.18 1332.12 L164.66 1349.37 L166.13 1329.47 L167.61 1344.21 L169.08 1329.47 L170.26 1302.18 L171.74 1329.47 L172.92 1358.96 L174.39 1338.31 L175.57 1314.72 L177.05 1299.24 L178.52 1326.52 L179.7 1344.95 L181.18 1326.52 L182.65 1350.11 L184.12 1320.62 L186.48 1312.51 L188.25 1344.21 L190.02 1367.07 L191.5 1303.66 L192.97 1317.67 L194.45 1315.46 L195.92 1335.36 L197.69 1354.53 L198.87 1355.27 L200.05 1322.09 L201.23 1318.41 L202.71 1349.37 L204.47 1365.59 L205.65 1353.8 L207.72 1371.49 L208.9 1329.47 L210.08 1303.66 L211.55 1329.47 L212.73 1344.95 L214.21 1321.35 L215.68 1335.36 L217.45 1312.51 L218.93 1323.57 L220.4 1353.06 L221.88 1351.59 L223.06 1330.94 L224.53 1358.22 L226 1351.59 L227.77 1327.25 L228.95 1326.52 L230.43 1378.13 L231.9 1324.3 L233.67 1317.37 L235.15 1353.06 L236.62 1371.49 L237.8 1351.59 L238.98 1317.37 L240.46 1344.21 L242.23 1379.6 L244 1357.48 L245.76 1322.09 L247.24 1332.41 L249.01 1373.71 L250.19 1381.08 L251.96 1372.23 L253.43 1344.21 L254.61 1336.84 L256.09 1341.26 L257.86 1365.59 L259.33 1348.64 L260.51 1333.15 L261.99 1348.64 L263.46 1342.74 L265.23 1358.96 L266.41 1370.76 L267.88 1344.21 L269.36 1353.06 L270.54 1372.97 L272.01 1351.59 L273.49 1352.32 L275.26 1367.81 L276.73 1378.13 L278.21 1387.42 L279.68 1370.76 L280.86 1382.55 L282.34 1356.01 L283.81 1344.21 L285.29 1329.47 L286.76 1347.16 L287.94 1368.99 L289.41 1350.11 L290.89 1345.39 L292.36 1358.96 L293.54 1372.23 L294.72 1376.65 L295.9 1364.86 L297.38 1377.83 L298.85 1367.81 L300.33 1351.59 L301.8 1361.91 L303.28 1341.26 L304.75 1340.53 L306.23 1358.96 L308 1378.13 L309.47 1366.33 L310.94 1327.99 L312.71 1338.31 L314.78 1319.14 L316.25 1344.21 L317.43 1361.91 L318.61 1370.76 L320.38 1338.31 L321.86 1364.86 L323.33 1351.59 L324.81 1367.07 L325.99 1351.59 L327.46 1358.96 L328.64 1376.65 L330.12 1361.91 L332.47 1337.13 L333.95 1356.01 L335.42 1358.22 L336.9 1372.23 L338.08 1381.08 L339.55 1358.22 L340.73 1367.81 L342.21 1387.42 L343.98 1381.08 L345.75 1378.13 L347.22 1372.23 L348.7 1361.17 L350.17 1381.08 L351.65 1362.65 L353.12 1381.08 L354.59 1363.38 L356.36 1361.91 L357.84 1370.76 L359.61 1387.42 L361.97 1387.42 L363.44 1373.71 L364.92 1350.11 L366.1 1349.37 L367.57 1379.6 L369.34 1364.86 L370.82 1379.6 L372.29 1360.43 L374.06 1339.79 L375.83 1358.96 L377.3 1376.65 L379.37 1382.55 L381.14 1378.13 L383.2 1375.18 L384.68 1356.75 L386.45 1358.96 L387.92 1380.34 L389.99 1378.13 L391.46 1345.69 L392.94 1366.33 L394.41 1381.08 L396.21 1387.42 L398.27 1387.42 L399.75 1369.28 L401.52 1351.59 L403.29 1358.96 L404.76 1347.16 L406.53 1373.71 L408 1350.11 L409.48 1351.59 L411.25 1370.76 L413.02 1378.13 L414.49 1387.42 L416.26 1373.71 L417.74 1378.13 L419.21 1387.42 L420.98 1373.71 L422.75 1353.35 L424.23 1370.76 L425.7 1373.71 L427.18 1362.65 L428.94 1379.6 L430.71 1387.42 L432.48 1381.08 L434.25 1356.01 L436.02 1350.11 L437.79 1373.71 L439.56 1356.75 L441.33 1379.6 L443.1 1373.71 L444.58 1352.32 L446.35 1367.81 L448.41 1337.58 L450.18 1370.76 L451.65 1379.6 L453.42 1354.53 L455.19 1358.96 L456.67 1373.71 L458.44 1387.42 L460.21 1376.65 L462.27 1354.53 L464.04 1376.65 L465.81 1387.42 L467.88 1387.42 L469.65 1378.13 L471.71 1358.96 L473.48 1376.65 L475.25 1387.42 L477.02 1376.65 L478.49 1364.86 L480.26 1376.65 L482.03 1387.42 L484.1 1378.13 L486.16 1368.1 L487.93 1370.76 L489.7 1379.6 L491.47 1373.71 L493.24 1387.42 L495.3 1387.42 L497.07 1373.71 L498.84 1379.6 L500.61 1370.76 L502.38 1387.42 L503.86 1359.7 L505.63 1379.6 L507.1 1373.71 L508.87 1387.42 L510.64 1387.42 L512.41 1365.15 L514.18 1378.13 L515.65 1387.42 L517.42 1372.23 L518.9 1349.82 L520.67 1367.81 L522.44 1373.71 L524.21 1387.42 L526.57 1387.42 L528.34 1376.65 L530.11 1362.65 L531.88 1379.6 L533.65 1387.42 L535.41 1376.65 L536.89 1373.71 L538.66 1387.42 L540.72 1387.42 L542.49 1373.71 L543.97 1379.6 L545.74 1361.17 L547.51 1376.65 L548.98 1387.42 L550.75 1387.42 L552.52 1387.42 L554 1376.65 L555.76 1387.42 L557.83 1387.42 L559.6 1379.6 L561.37 1373.71 L563.14 1387.42 L564.91 1381.08 L566.68 1376.65 L568.45 1382.55 L570.22 1372.97 L571.99 1379.6 L573.76 1387.42 L575.82 1382.55 L577.59 1387.42 L579.36 1376.65 L581.13 1387.42 L583.49 1387.42 L585.55 1368.1 L587.32 1379.6 L589.09 1387.42 L591.45 1387.42 L593.22 1376.65 L594.99 1374.44 L596.76 1387.42 L598.53 1378.13 L600.59 1373.71 L602.66 1387.42 L604.72 1369.28 L606.49 1379.6 L608.26 1387.42 L610.33 1381.08 L612.1 1373.71 L613.87 1378.13 L615.64 1373.71 L617.41 1381.82 L619.18 1379.6 L620.94 1376.65 L622.71 1381.08 L624.48 1382.55 L626.25 1387.42 L629.79 1387.42 L634.22 1387.42 L636.58 1384.03 L638.35 1378.13 L640.12 1387.42 L642.18 1387.42 L643.95 1376.65 L645.72 1367.81 L647.19 1370.76 L648.67 1354.53 L650.44 1373.71 L652.21 1381.08 L653.98 1370.76 L655.75 1370.02 L657.52 1381.08 L659.29 1387.42 L661.06 1381.08 L662.82 1387.42 L664.59 1376.65 L666.36 1387.42 L668.72 1387.42 L670.79 1369.28 L672.56 1381.08 L674.33 1387.42 L676.1 1382.55 L677.87 1387.42 L679.93 1379.6 L681.7 1375.92 L683.47 1387.42 L685.53 1387.42 L687.3 1379.6 L689.07 1361.17 L690.84 1373.71 L692.61 1364.12 L694.38 1381.08 L696.15 1387.42 L697.92 1379.6 L699.69 1381.08 L701.46 1378.13 L703.23 1349.37 L704.44 1349.37 L706.21 1367.81 L707.98 1376.65 L709.75 1373.71 L711.52 1381.08 L713.29 1373.71 L715.06 1387.42 L716.82 1375.18 L718.59 1387.42 L720.07 1375.18 L721.84 1387.42 L723.61 1381.08 L725.08 1361.17 L726.85 1387.42 L728.62 1367.81 L730.98 1356.3 L732.75 1378.13 L734.52 1387.42 L736.29 1350.85 L738.06 1366.33 L739.83 1329.47 L741.6 1351.59 L743.07 1379.6 L744.84 1362.65 L746.61 1379.6 L748.38 1370.76 L749.86 1379.6 L751.63 1358.96 L753.4 1387.42 L754.87 1373.71 L756.64 1348.64 L758.41 1366.33 L759.88 1376.65 L761.65 1361.17 L763.42 1351.59 L764.9 1369.28 L766.67 1358.96 L769.03 1346.42 L771.09 1378.87 L772.86 1357.48 L775.22 1356.3 L777.29 1387.42 L779.06 1373.71 L780.82 1352.76 L782 1379.6 L783.18 1338.02 L784.95 1366.33 L786.43 1378.13 L787.9 1373.71 L789.67 1350.11 L791.74 1376.65 L793.51 1358.96 L794.98 1345.69 L796.75 1366.33 L798.52 1335.36 L800.29 1344.21 L802.06 1336.84 L803.83 1351.59 L805.3 1357.48 L806.78 1319.88 L808.25 1344.21 L809.73 1370.76 L811.5 1381.08 L813.27 1358.96 L814.74 1329.47 L815.92 1288.18 L817.69 1317.67 L819.17 1329.47 L820.64 1317.67 L822.12 1329.47 L823.59 1297.02 L824.77 1289.65 L826.54 1271.95 L828.31 1308.82 L829.49 1341.26 L831.26 1255.29 L833.03 1285.23 L834.21 1329.47 L835.39 1364.86 L836.86 1347.16 L838.34 1360.43 L839.81 1333.89 L841.58 1349.37 L843.35 1329.47 L845.12 1309.12 L846.89 1329.47 L848.36 1338.31 L849.84 1326.52 L851.61 1307.35 L853.08 1338.31 L854.26 1307.35 L855.74 1329.47 L857.21 1348.64 L858.98 1304.1 L860.75 1329.47 L862.23 1375.18 L864 1336.84 L865.76 1364.86 L867.24 1327.25 L868.71 1358.96 L870.19 1377.39 L871.96 1358.96 L873.43 1329.47 L874.91 1341.26 L876.09 1326.52 L877.56 1365.59 L879.33 1313.98 L881.1 1338.31 L883.46 1303.22 L885.53 1317.67 L887.29 1362.65 L889.36 1307.05 L891.13 1329.47 L892.9 1358.96 L894.37 1370.76 L896.73 1310 L898.5 1336.84 L900.27 1373.71 L902.04 1378.87 L903.52 1329.47 L904.99 1292.6 L906.76 1314.72 L907.94 1362.65 L909.41 1329.47 L910.59 1321.35 L912.07 1358.96 L913.54 1329.47 L915.02 1322.39 L916.79 1344.21 L918.26 1371.49 L919.74 1351.59 L922.1 1317.67 L923.87 1339.79 L925.34 1351.59 L926.82 1363.38 L928.29 1344.21 L929.76 1329.47 L931.24 1288.18 L933.01 1311.77 L934.48 1329.47 L935.96 1317.67 L937.43 1326.52 L938.91 1295.55 L940.38 1288.18 L942.15 1271.95 L943.33 1308.82 L944.51 1341.26 L946.58 1255.29 L948.35 1283.75 L950.12 1311.77 L951.59 1297.02 L953.95 1342 L955.72 1308.82 L957.19 1269 L958.96 1299.97 L960.73 1329.47 L961.91 1351.59 L963.39 1367.81 L965.16 1329.47 L966.63 1275.2 L968.11 1314.72 L969.58 1347.16 L971.06 1326.52 L972.53 1302.18 L974 1329.47 L975.77 1367.07 L977.54 1351.59 L978.72 1295.55 L980.2 1311.77 L981.38 1291.86 L982.85 1317.67 L984.33 1326.52 L986.39 1274.17 L987.87 1333.15 L989.93 1243.94 L991.41 1282.28 L992.88 1267.53 L994.65 1320.62 L996.42 1329.47 L997.89 1347.9 L999.66 1312.51 L1001.14 1327.99 L1002.61 1317.67 L1004.38 1329.47 L1006.15 1349.37 L1007.92 1336.84 L1009.69 1344.21 L1010.87 1277.85 L1012.35 1311.77 L1013.82 1344.21 L1014.14 1336.84 L1015.62 1348.64 L1017.39 1326.52 L1018.86 1305.13 L1020.63 1320.62 L1022.4 1333.89 L1023.88 1288.18 L1025.35 1268.27 L1026.82 1297.02 L1028 1282.28 L1029.48 1310.29 L1030.66 1325.04 L1032.13 1246.15 L1033.61 1288.18 L1035.38 1236.86 L1036.85 1285.23 L1038.03 1320.62 L1039.51 1299.97 L1040.98 1325.04 L1042.75 1267.24 L1044.52 1314.72 L1046.29 1367.07 L1047.76 1314.72 L1049.24 1266.06 L1050.71 1297.02 L1052.19 1279.33 L1053.96 1343.47 L1055.73 1311.77 L1057.2 1297.02 L1058.68 1263.4 L1060.15 1294.07 L1061.33 1276.38 L1063.1 1297.02 L1064.87 1313.24 L1066.35 1242.46 L1068.12 1282.28 L1069.88 1217.39 L1071.65 1276.38 L1073.13 1323.57 L1074.9 1299.97 L1076.37 1282.28 L1077.85 1268.27 L1079.32 1307.35 L1080.8 1343.92 L1082.27 1299.97 L1083.45 1284.49 L1085.22 1329.47 L1086.99 1377.39 L1088.47 1307.35 L1090.53 1276.38 L1092 1314.72 L1093.48 1278.59 L1094.95 1329.47 L1096.43 1294.07 L1097.9 1332.41 L1099.38 1320.62 L1101.44 1332.41 L1103.51 1291.12 L1104.98 1314.72 L1106.46 1340.53 L1107.93 1299.97 L1109.7 1336.84 L1111.76 1299.97 L1113.83 1353.06 L1115.3 1329.47 L1117.07 1280.8 L1118.55 1307.35 L1120.32 1302.18 L1122.09 1327.99 L1123.86 1302.18 L1125.33 1320.62 L1127.1 1349.37 L1129.46 1302.92 L1131.23 1338.31 L1132.71 1329.47 L1134.47 1303.66 L1135.95 1343.47 L1137.72 1320.62 L1139.49 1353.06 L1140.96 1333.89 L1142.44 1314.72 L1144.21 1335.36 L1145.98 1344.95 L1147.45 1314.72 L1148.93 1255.73 L1150.4 1208.54 L1151.88 1270.48 L1153.35 1310.29 L1155.41 1364.12 L1157.18 1314.72 L1158.66 1296.29 L1160.43 1314.72 L1161.31 1295.55 L1162.79 1347.16 L1164.26 1320.62 L1166.03 1336.84 L1167.51 1300.71 L1169.28 1344.21 L1171.05 1307.35 L1172.52 1270.48 L1174.59 1252.05 L1176.06 1285.23 L1177.53 1273.43 L1179.01 1314.72 L1181.07 1357.48 L1182.55 1329.47 L1184.91 1303.22 L1186.68 1329.47 L1188.45 1356.75 L1190.81 1291.86 L1192.58 1325.04 L1194.35 1308.82 L1196.12 1320.62 L1197.88 1304.4 L1199.65 1311.77 L1201.42 1250.57 L1203.78 1304.4 L1206.14 1242.17 L1208.5 1270.48 L1210.86 1335.36 L1212.93 1285.23 L1214.4 1273.43 L1216.17 1285.23 L1217.94 1316.19 L1220.59 1263.11 L1223.25 1314.72 L1225.61 1336.84 L1228.56 1272.25 L1231.21 1299.97 L1233.57 1320.62 L1235.93 1257.5 L1238.29 1307.35 L1239.76 1337.58 L1241.53 1292.6 L1243.6 1330.94 L1245.66 1299.97 L1248.02 1275.2 L1250.38 1311.77 L1252.74 1335.36 L1255.1 1293.34 L1256.87 1326.52 L1258.94 1342 L1261.29 1325.04 L1263.36 1310.29 L1265.42 1299.97 L1267.49 1288.18 L1269.26 1280.51 L1271.03 1314.72 L1273.09 1280.8 L1274.86 1336.84 L1276.63 1266.79 L1278.4 1294.07 L1279.88 1333.89 L1282.24 1288.91 L1284.3 1311.77 L1286.36 1291.86 L1288.13 1314.72 L1289.61 1351.59 L1291.38 1356.01 L1293.15 1335.36 L1294.92 1347.16 L1296.39 1325.04 L1298.16 1347.16 L1299.64 1316.19 L1301.7 1332.41 L1303.47 1256.91 L1305.24 1297.02 L1307.01 1342 L1309.07 1262.37 L1311.14 1299.97 L1313.2 1336.84 L1315.27 1279.03 L1317.33 1299.97 L1319.1 1314.72 L1320.58 1295.55 L1322.35 1314.72 L1323.82 1344.21 L1324.44 1346.42 L1326.21 1314.72 L1327.39 1301.45 L1329.45 1304.4 L1331.22 1336.84 L1332.99 1314.72 L1335.35 1293.34 L1337.41 1314.72 L1339.18 1329.47 L1341.54 1354.53 L1343.9 1329.47 L1345.97 1344.21 L1348.62 1284.49 L1350.39 1358.96 L1352.75 1370.02 L1354.52 1314.72 L1356.29 1311.47 L1358.35 1329.47 L1360.42 1338.31 L1362.48 1329.47 L1363.66 1360.43 L1365.43 1320.91 L1367.79 1379.6 L1369.86 1353.06 L1371.33 1364.86 L1372.81 1338.31 L1374.28 1327.25 L1376.05 1350.11 L1378.41 1378.87 L1380.77 1305.58 L1382.83 1329.47 L1384.6 1366.33 L1386.67 1377.39 L1388.73 1344.21 L1390.5 1309.12 L1392.27 1329.47 L1394.04 1375.18 L1396.11 1351.59 L1397.88 1365.59 L1399.65 1346.42 L1401.41 1361.17 L1404.07 1307.64 L1405.54 1356.01 L1407.31 1336.84 L1408.79 1344.21 L1410.56 1320.32 L1412.03 1350.11 L1414.1 1329.47 L1416.46 1280.51 L1418.52 1369.28 L1420.29 1344.21 L1421.47 1327.99 L1423.53 1342.74 L1425.3 1335.36 L1426.78 1351.59 L1428.55 1325.78 L1430.61 1356.01 L1432.38 1375.92 L1434.15 1358.96 L1435.92 1347.16 L1438.28 1330.94 L1440.35 1348.64 L1442.12 1358.96 L1443.88 1387.42 L1445.95 1344.21 L1448.6 1274.9 L1450.96 1382.55 L1453.03 1373.71 L1455.39 1329.47 L1457.75 1311.03 L1459.52 1344.21 L1461.29 1373.71 L1463.35 1351.59 L1465.12 1332.71 L1466.89 1358.96 L1468.66 1378.13 L1470.72 1351.59 L1472.49 1366.33 L1474.56 1346.42 L1476.92 1387.42 L1478.98 1342 L1481.05 1358.96 L1483.11 1373.71 L1484.88 1356.01 L1486.65 1339.79 L1488.42 1370.76 L1490.48 1356.01 L1491.96 1366.33 L1494.02 1348.64 L1495.5 1322.83 L1497.27 1358.96 L1498.74 1351.59 L1500.51 1378.87 L1503.17 1348.64 L1505.23 1373.71 L1507.29 1361.17 L1509.06 1374.44 L1511.42 1333.15 L1513.19 1344.21 L1514.67 1338.31 L1516.44 1366.33 L1518.5 1373.71 L1520.27 1366.33 L1522.63 1327.25 L1524.7 1358.96 L1526.76 1373.71 L1528.24 1379.6 L1529.71 1324.3 L1531.77 1317.67 L1533.84 1344.21 L1535.61 1372.23 L1537.67 1358.96 L1539.44 1330.94 L1541.51 1356.01 L1542.98 1337.58 L1545.34 1382.55 L1548 1347.9 L1550.35 1358.96 L1552.71 1381.08 L1554.78 1366.33 L1556.55 1373.71 L1558.32 1387.42 L1560.38 1358.96 L1562.15 1323.57 L1563.92 1319.14 L1565.69 1336.84 L1567.76 1364.86 L1569.53 1353.06 L1571.59 1369.28 L1573.36 1361.91 L1575.13 1370.76 L1576.9 1381.08 L1578.96 1370.02 L1580.73 1385.5 L1582.5 1379.6 L1584.27 1369.28 L1586.34 1385.5 L1588.99 1344.21 L1590.76 1358.96 L1592.53 1373.71 L1594.89 1381.08 L1597.25 1350.11 L1599.02 1358.96 L1600.79 1373.71 L1602.85 1387.42 L1605.8 1357.48 L1607.87 1372.23 L1609.93 1358.96 L1612 1387.42 L1614.06 1361.91 L1615.83 1378.13 L1617.89 1364.86 L1619.66 1387.42 L1622.32 1358.96 L1623.79 1365.59 L1625.27 1336.84 L1627.04 1364.86 L1628.51 1381.08 L1630.58 1361.91 L1632.35 1353.06 L1633.82 1338.31 L1634.14 1339.05 L1636.21 1358.96 L1637.98 1367.81 L1639.75 1387.42 L1641.52 1329.47 L1642.7 1309.56 L1644.47 1344.21 L1646.53 1387.42 L1648.59 1379.6 L1650.95 1341.26 L1653.02 1358.96 L1654.79 1373.71 L1656.85 1357.48 L1659.51 1353.8 L1661.87 1381.08 L1664.52 1353.8 L1666.59 1366.33 L1668.35 1376.65 L1670.12 1374.44 L1672.19 1379.6 L1674.25 1384.03 L1676.32 1381.08 L1678.38 1387.42 L1680.45 1373.71 L1682.51 1387.42 L1684.58 1369.28 L1686.35 1364.86 L1688.41 1378.13 L1690.47 1347.16 L1692.24 1372.23 L1694.31 1364.86 L1696.08 1370.02 L1698.14 1351.59 L1699.91 1366.33 L1701.68 1387.42 L1704.04 1372.23 L1706.4 1365.15 L1708.47 1381.08 L1710.24 1387.42 L1712.3 1382.55 L1714.07 1378.13 L1716.13 1387.42 L1718.2 1384.03 L1720.56 1381.08 L1722.62 1387.42 L1724.69 1373.71 L1726.75 1387.42 L1729.7 1349.37 L1731.76 1364.86 L1733.53 1387.42 L1736.19 1357.48 L1738.55 1366.33 L1740.61 1364.86 L1742.68 1381.08 L1744.15 1387.42 L1746.22 1362.65 L1747.99 1366.33 L1749.76 1362.65 L1751.82 1379.6 L1753.59 1387.42 L1755.95 1369.28 L1758.01 1373.71 L1759.78 1372.23 L1761.85 1387.42 L1764.21 1378.13 L1766.27 1375.18 L1768.34 1387.42 L1770.7 1375.18 L1772.76 1373.71 L1774.53 1387.42 L1776.89 1373.71 L1778.95 1366.33 L1780.72 1378.13 L1782.79 1379.6 L1785.74 1370.02 L1787.8 1387.42 L1790.46 1387.42 L1792.52 1372.23 L1794.29 1387.42 L1796.35 1358.96 L1798.42 1381.08 L1800.48 1367.07 L1802.55 1387.42 L1804.61 1366.33 L1806.68 1365.59 L1808.74 1376.65 L1810.81 1373.71 L1812.87 1387.42 L1814.94 1373.71 L1817 1366.33 L1819.06 1373.71 L1821.13 1381.08 L1823.19 1378.13 L1825.26 1370.76 L1827.32 1379.6 L1829.39 1382.55 L1831.16 1375.18 L1833.22 1379.6 L1835.29 1378.13 L1837.35 1382.55 L1839.41 1387.42 L1841.48 1382.55 L1843.84 1386.24 L1846.2 1387.42 L1849.74 1386.24 L1852.98 1372.23 L1854.75 1387.42 L1856.82 1379.6 L1858.88 1370.76 L1860.94 1387.42 L1863.01 1367.81 L1865.07 1361.17 L1867.14 1387.42 L1869.5 1387.42 L1871.86 1375.18 L1873.92 1381.08 L1876.28 1369.28 L1878.35 1387.42 L1880.71 1382.55 L1882.77 1387.42 L1884.83 1379.6 L1886.9 1387.42 L1888.96 1382.55 L1891.62 1375.92 L1893.68 1387.42 L1896.34 1387.42 L1899.29 1387.42 L1900.47 1380.34 L1903.41 1380.34 L1904.59 1387.42 L1908.13 1387.42 L1912.56 1386.24 L1915.8 1383.29 L1917.87 1387.42 L1920.05 1382.55 L1922.26 1373.71 L1923.73 1366.33 L1925.5 1366.33 L1926.98 1387.42 L1929.04 1387.42 L1930.81 1382.55 L1932.88 1383.29 L1934.65 1387.42 L1938.48 1387.42 L1940.25 1380.34 L1942.31 1387.42 L1945.85 1387.42 L1948.21 1382.55 L1950.28 1387.42 L1955 1387.42 L1956.76 1360.43 L1958.83 1360.43 L1960.89 1387.42 L1964.43 1387.42 L1966.5 1381.82 L1968.56 1387.42 L1972.4 1387.42 L1974.46 1377.39 L1976.53 1387.42 L1979.77 1387.42 L1981.54 1381.82 L1985.08 1382.26 L1986.85 1387.42 L1991.57 1387.42 L1993.63 1382.55 L1995.7 1387.42 L2003.36 1387.42 L2004.54 1386.24 L2006.31 1387.42 L2012.21 1387.42 L2014.28 1382.26 L2016.34 1387.42 L2019 1387.42 L2020.76 1380.34 L2022.83 1387.42 L2025.48 1387.42 L2027.55 1380.34 L2030.2 1378.13 L2032.56 1387.42 L2037.28 1387.42 L2039.35 1382.55 L2041.41 1387.42 L2046.72 1387.42 L2049.08 1380.34 L2051.14 1387.42 L2057.93 1387.42 L2059.7 1384.32 L2061.76 1387.42 L2063.82 1384.03 L2066.77 1384.32 L2068.84 1387.42 L2071.2 1387.42 L2072.97 1385.8 L2074.74 1387.42 L2080.05 1387.42 L2083 1385.5 L2085.35 1387.42 L2087.12 1383.29 L2089.19 1382.85 L2091.25 1387.42 L2093.02 1378.13 L2095.38 1378.13 L2097.15 1387.42 L2099.22 1387.42 L2100.69 1381.08 L2103.05 1382.55" fill="none" stroke="#000" stroke-width="3.6" stroke-linejoin="round" stroke-linecap="butt"/></g>
<path d="M139.4 1387.4v-6.4M139.4 1190.6v6.4M226.08 1387.4v-6.4M226.08 1190.6v6.4M313.08 1387.4v-6.4M313.08 1190.6v6.4M399.45 1387.4v-6.4M399.45 1190.6v6.4M485.81 1387.4v-6.4M485.81 1190.6v6.4M572.81 1387.4v-6.4M572.81 1190.6v6.4M659.81 1387.4v-6.4M659.81 1190.6v6.4M746.17 1387.4v-6.4M746.17 1190.6v6.4M832.54 1387.4v-6.4M832.54 1190.6v6.4M919.22 1387.4v-6.4M919.22 1190.6v6.4M1006.22 1387.4v-6.4M1006.22 1190.6v6.4M1092.9 1387.4v-6.4M1092.9 1190.6v6.4M1179.27 1387.4v-6.4M1179.27 1190.6v6.4M1265.95 1387.4v-6.4M1265.95 1190.6v6.4M1352.95 1387.4v-6.4M1352.95 1190.6v6.4M1439.31 1387.4v-6.4M1439.31 1190.6v6.4M1525.99 1387.4v-6.4M1525.99 1190.6v6.4M1612.67 1387.4v-6.4M1612.67 1190.6v6.4M1699.67 1387.4v-6.4M1699.67 1190.6v6.4M1786.04 1387.4v-6.4M1786.04 1190.6v6.4M1872.4 1387.4v-6.4M1872.4 1190.6v6.4M1959.4 1387.4v-6.4M1959.4 1190.6v6.4M2046.4 1387.4v-6.4M2046.4 1190.6v6.4M82.4 1387.4h5.6M2103.4 1387.4h-5.6M82.4 1354.6h5.6M2103.4 1354.6h-5.6M82.4 1321.8h5.6M2103.4 1321.8h-5.6M82.4 1289h5.6M2103.4 1289h-5.6M82.4 1256.2h5.6M2103.4 1256.2h-5.6M82.4 1223.4h5.6M2103.4 1223.4h-5.6M82.4 1190.6h5.6M2103.4 1190.6h-5.6" stroke="#000" stroke-width="1.0" fill="none"/>
<rect x="82.4" y="1190.6" width="2021" height="196.8" fill="none" stroke="#000" stroke-width="1.5"/>
<g stroke="#000" stroke-width="0.4"><text x="76.4" y="1393.6" text-anchor="end">0</text>
<text x="76.4" y="1360.8" text-anchor="end">50</text>
<text x="76.4" y="1328" text-anchor="end">100</text>
<text x="76.4" y="1295.2" text-anchor="end">150</text>
<text x="76.4" y="1262.4" text-anchor="end">200</text>
<text x="76.4" y="1229.6" text-anchor="end">250</text>
<text x="76.4" y="1196.8" text-anchor="end">300</text>
<text x="139.4" y="1408.6" text-anchor="middle">07/92</text>
<text x="226.08" y="1408.6" text-anchor="middle">04/93</text>
<text x="313.08" y="1408.6" text-anchor="middle">01/94</text>
<text x="399.45" y="1408.6" text-anchor="middle">10/94</text>
<text x="485.81" y="1408.6" text-anchor="middle">07/95</text>
<text x="572.81" y="1408.6" text-anchor="middle">04/96</text>
<text x="659.81" y="1408.6" text-anchor="middle">01/97</text>
<text x="746.17" y="1408.6" text-anchor="middle">10/97</text>
<text x="832.54" y="1408.6" text-anchor="middle">07/98</text>
<text x="919.22" y="1408.6" text-anchor="middle">04/99</text>
<text x="1006.22" y="1408.6" text-anchor="middle">01/00</text>
<text x="1092.9" y="1408.6" text-anchor="middle">10/00</text>
<text x="1179.27" y="1408.6" text-anchor="middle">07/01</text>
<text x="1265.95" y="1408.6" text-anchor="middle">04/02</text>
<text x="1352.95" y="1408.6" text-anchor="middle">01/03</text>
<text x="1439.31" y="1408.6" text-anchor="middle">10/03</text>
<text x="1525.99" y="1408.6" text-anchor="middle">07/04</text>
<text x="1612.67" y="1408.6" text-anchor="middle">04/05</text>
<text x="1699.67" y="1408.6" text-anchor="middle">01/06</text>
<text x="1786.04" y="1408.6" text-anchor="middle">10/06</text>
<text x="1872.4" y="1408.6" text-anchor="middle">07/07</text>
<text x="1959.4" y="1408.6" text-anchor="middle">04/08</text>
<text x="2046.4" y="1408.6" text-anchor="middle">01/09</text>
</g>
<text transform="translate(12.10 1291.40) scale(0.9 1) rotate(-90)" font-family="'DejaVu Sans','Liberation Sans',sans-serif" font-size="19.44" text-anchor="middle" fill="#000" stroke="#000" stroke-width="0.4">Sunspot</text><text transform="translate(33.00 1286.05) scale(0.9 1) rotate(-90)" font-family="'DejaVu Sans','Liberation Sans',sans-serif" font-size="19.44" text-anchor="middle" fill="#000" stroke="#000" stroke-width="0.4">Number</text><text transform="translate(1043.51 1434.70) scale(0.9859 1)" font-family="'DejaVu Sans Condensed','DejaVu Sans','Liberation Sans',sans-serif" font-size="19.44" fill="#000000" stroke="#000000" stroke-width="0.45">Day of Year</text>
</g>
</svg>
</body></html>
